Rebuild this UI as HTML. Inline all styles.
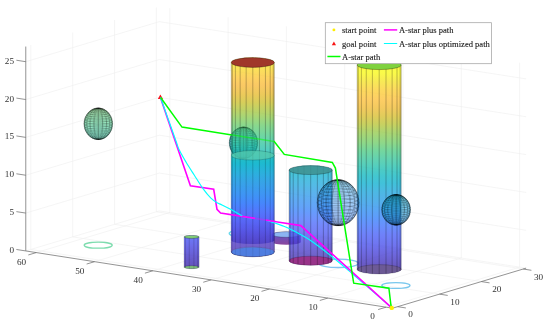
<!DOCTYPE html>
<html><head><meta charset="utf-8"><title>A-star path planning 3D</title>
<style>html,body{margin:0;padding:0;background:#fff}svg{display:block}</style></head>
<body><svg width="550" height="323" viewBox="0 0 550 323">
<defs><clipPath id="cpR"><rect x="220" y="225" width="11.6" height="16"/></clipPath>
<linearGradient id="g1" x1="0" y1="0" x2="0" y2="1"><stop offset="0" stop-color="#68cc6d"/><stop offset="0.12" stop-color="#5fcc74"/><stop offset="0.25" stop-color="#56cb7c"/><stop offset="0.38" stop-color="#4ccb84"/><stop offset="0.5" stop-color="#45ca8b"/><stop offset="0.62" stop-color="#3fc892"/><stop offset="0.75" stop-color="#39c798"/><stop offset="0.88" stop-color="#34c59e"/><stop offset="1" stop-color="#2ec4a4"/></linearGradient>
<linearGradient id="discg" x1="0" y1="0" x2="0" y2="1"><stop offset="0" stop-color="#5244c4"/><stop offset="0.45" stop-color="#6440b0"/><stop offset="1" stop-color="#803694"/></linearGradient>
<linearGradient id="g2" x1="0" y1="0" x2="0" y2="1"><stop offset="0" stop-color="#1cbeb4"/><stop offset="0.12" stop-color="#16bcb9"/><stop offset="0.25" stop-color="#12babd"/><stop offset="0.38" stop-color="#0eb8c2"/><stop offset="0.5" stop-color="#0ab6c6"/><stop offset="0.62" stop-color="#07b4cb"/><stop offset="0.75" stop-color="#0ab1cf"/><stop offset="0.88" stop-color="#0eaed2"/><stop offset="1" stop-color="#12abd6"/></linearGradient>
<linearGradient id="g3" gradientUnits="userSpaceOnUse" x1="0" y1="62.5" x2="0" y2="251.9"><stop offset="0" stop-color="#f7e922"/><stop offset="0.04" stop-color="#fad62d"/><stop offset="0.08" stop-color="#fdc636"/><stop offset="0.12" stop-color="#f9ba38"/><stop offset="0.17" stop-color="#e6bb2c"/><stop offset="0.21" stop-color="#ccc02c"/><stop offset="0.25" stop-color="#adc63b"/><stop offset="0.29" stop-color="#8ccb52"/><stop offset="0.33" stop-color="#6acc6c"/><stop offset="0.38" stop-color="#4acb86"/><stop offset="0.42" stop-color="#36c69c"/><stop offset="0.46" stop-color="#22c0ae"/><stop offset="0.5" stop-color="#11b9bf"/><stop offset="0.54" stop-color="#09b2cd"/><stop offset="0.58" stop-color="#17a9da"/><stop offset="0.62" stop-color="#219de3"/><stop offset="0.67" stop-color="#2892ed"/><stop offset="0.71" stop-color="#2e86f6"/><stop offset="0.75" stop-color="#3678fc"/><stop offset="0.79" stop-color="#4369fc"/><stop offset="0.83" stop-color="#4759f6"/><stop offset="0.88" stop-color="#474be8"/><stop offset="0.92" stop-color="#453dd4"/><stop offset="0.96" stop-color="#4131be"/><stop offset="1" stop-color="#3e26a8"/></linearGradient>
<linearGradient id="g4" x1="0" y1="0" x2="0" y2="1"><stop offset="0" stop-color="#39c799"/><stop offset="0.12" stop-color="#33c59f"/><stop offset="0.25" stop-color="#2dc3a5"/><stop offset="0.38" stop-color="#27c1aa"/><stop offset="0.5" stop-color="#21c0af"/><stop offset="0.62" stop-color="#1bbeb4"/><stop offset="0.75" stop-color="#15bcb9"/><stop offset="0.88" stop-color="#11babe"/><stop offset="1" stop-color="#0db8c3"/></linearGradient>
<linearGradient id="g5" gradientUnits="userSpaceOnUse" x1="0" y1="155.3" x2="0" y2="251.9"><stop offset="0" stop-color="#14bbbb"/><stop offset="0.04" stop-color="#0db7c3"/><stop offset="0.08" stop-color="#06b4cb"/><stop offset="0.12" stop-color="#0dafd1"/><stop offset="0.17" stop-color="#14aad7"/><stop offset="0.21" stop-color="#1aa5dd"/><stop offset="0.25" stop-color="#1f9fe1"/><stop offset="0.29" stop-color="#249ae6"/><stop offset="0.33" stop-color="#2794eb"/><stop offset="0.38" stop-color="#2a8ef1"/><stop offset="0.42" stop-color="#2d88f5"/><stop offset="0.46" stop-color="#3181f9"/><stop offset="0.5" stop-color="#357afc"/><stop offset="0.54" stop-color="#3b72fc"/><stop offset="0.58" stop-color="#426afc"/><stop offset="0.62" stop-color="#4562fa"/><stop offset="0.67" stop-color="#475bf7"/><stop offset="0.71" stop-color="#4853f1"/><stop offset="0.75" stop-color="#474ce9"/><stop offset="0.79" stop-color="#4644e0"/><stop offset="0.83" stop-color="#453ed5"/><stop offset="0.88" stop-color="#4337ca"/><stop offset="0.92" stop-color="#4131bf"/><stop offset="0.96" stop-color="#3f2cb4"/><stop offset="1" stop-color="#3e26a8"/></linearGradient>
<linearGradient id="g6" gradientUnits="userSpaceOnUse" x1="0" y1="170.1" x2="0" y2="260.7"><stop offset="0" stop-color="#0ab6c7"/><stop offset="0.04" stop-color="#09b2cd"/><stop offset="0.08" stop-color="#10add3"/><stop offset="0.12" stop-color="#16a9d9"/><stop offset="0.17" stop-color="#1ba4de"/><stop offset="0.21" stop-color="#209ee2"/><stop offset="0.25" stop-color="#2499e7"/><stop offset="0.29" stop-color="#2794ec"/><stop offset="0.33" stop-color="#2a8ef0"/><stop offset="0.38" stop-color="#2d88f5"/><stop offset="0.42" stop-color="#3082f8"/><stop offset="0.46" stop-color="#337bfc"/><stop offset="0.5" stop-color="#3a74fc"/><stop offset="0.54" stop-color="#406dfc"/><stop offset="0.58" stop-color="#4465fb"/><stop offset="0.62" stop-color="#465ef8"/><stop offset="0.67" stop-color="#4857f5"/><stop offset="0.71" stop-color="#4750ee"/><stop offset="0.75" stop-color="#4749e5"/><stop offset="0.79" stop-color="#4642dd"/><stop offset="0.83" stop-color="#443cd2"/><stop offset="0.88" stop-color="#4336c8"/><stop offset="0.92" stop-color="#4131bd"/><stop offset="0.96" stop-color="#3f2cb3"/><stop offset="1" stop-color="#3e26a8"/></linearGradient>
<linearGradient id="g7" gradientUnits="userSpaceOnUse" x1="0" y1="64.9" x2="0" y2="269.3"><stop offset="0" stop-color="#f9fb15"/><stop offset="0.04" stop-color="#f9f916"/><stop offset="0.08" stop-color="#f6e426"/><stop offset="0.12" stop-color="#fcd031"/><stop offset="0.17" stop-color="#fdc038"/><stop offset="0.21" stop-color="#f0bb32"/><stop offset="0.25" stop-color="#d8be2c"/><stop offset="0.29" stop-color="#b9c434"/><stop offset="0.33" stop-color="#95ca4b"/><stop offset="0.38" stop-color="#6fcd67"/><stop offset="0.42" stop-color="#4dcb83"/><stop offset="0.46" stop-color="#37c69b"/><stop offset="0.5" stop-color="#21c0af"/><stop offset="0.54" stop-color="#0fb8c1"/><stop offset="0.58" stop-color="#0cb0d0"/><stop offset="0.62" stop-color="#1aa5dc"/><stop offset="0.67" stop-color="#2499e6"/><stop offset="0.71" stop-color="#2b8df2"/><stop offset="0.75" stop-color="#327ffa"/><stop offset="0.79" stop-color="#3e6ffc"/><stop offset="0.83" stop-color="#465ef8"/><stop offset="0.88" stop-color="#474eec"/><stop offset="0.92" stop-color="#453fd8"/><stop offset="0.96" stop-color="#4132c0"/><stop offset="1" stop-color="#3e26a8"/></linearGradient>
<linearGradient id="g8" gradientUnits="userSpaceOnUse" x1="0" y1="236.9" x2="0" y2="267.2"><stop offset="0" stop-color="#4857f5"/><stop offset="0.04" stop-color="#4855f3"/><stop offset="0.08" stop-color="#4852f0"/><stop offset="0.12" stop-color="#4750ee"/><stop offset="0.17" stop-color="#474eeb"/><stop offset="0.21" stop-color="#474be8"/><stop offset="0.25" stop-color="#4749e6"/><stop offset="0.29" stop-color="#4747e3"/><stop offset="0.33" stop-color="#4645e0"/><stop offset="0.38" stop-color="#4642dd"/><stop offset="0.42" stop-color="#4540d9"/><stop offset="0.46" stop-color="#453ed6"/><stop offset="0.5" stop-color="#443cd2"/><stop offset="0.54" stop-color="#443acf"/><stop offset="0.58" stop-color="#4338cb"/><stop offset="0.62" stop-color="#4336c8"/><stop offset="0.67" stop-color="#4234c4"/><stop offset="0.71" stop-color="#4232c1"/><stop offset="0.75" stop-color="#4131bd"/><stop offset="0.79" stop-color="#402fba"/><stop offset="0.83" stop-color="#402db6"/><stop offset="0.88" stop-color="#3f2cb3"/><stop offset="0.92" stop-color="#3f2aaf"/><stop offset="0.96" stop-color="#3e28ac"/><stop offset="1" stop-color="#3e26a8"/></linearGradient>
<linearGradient id="g9" x1="0" y1="0" x2="0" y2="1"><stop offset="0" stop-color="#1da2df"/><stop offset="0.12" stop-color="#219de3"/><stop offset="0.25" stop-color="#2598e7"/><stop offset="0.38" stop-color="#2893ec"/><stop offset="0.5" stop-color="#2a8ef0"/><stop offset="0.62" stop-color="#2d89f4"/><stop offset="0.75" stop-color="#3083f8"/><stop offset="0.88" stop-color="#327dfb"/><stop offset="1" stop-color="#3777fc"/></linearGradient>
<linearGradient id="g10" x1="0" y1="0" x2="0" y2="1"><stop offset="0" stop-color="#0eafd2"/><stop offset="0.12" stop-color="#12acd5"/><stop offset="0.25" stop-color="#16a9d9"/><stop offset="0.38" stop-color="#19a6dc"/><stop offset="0.5" stop-color="#1ca3de"/><stop offset="0.62" stop-color="#1fa0e1"/><stop offset="0.75" stop-color="#229ce4"/><stop offset="0.88" stop-color="#2499e7"/><stop offset="1" stop-color="#2696e9"/></linearGradient>
<clipPath id="cpA"><path d="M0,0 H242 V323 H0 Z M276,0 H345 V323 H276 Z"/></clipPath>
<clipPath id="cpE"><path d="M242,0 H255 V323 H242 Z M266,0 H276 V323 H266 Z M345,0 H550 V323 H345 Z"/></clipPath>
<clipPath id="cpB"><rect x="255" y="200" width="11" height="40"/></clipPath>
<clipPath id="cpC"><path d="M0,0 H231.5 V323 H0 Z M273.9,0 H550 V323 H273.9 Z"/></clipPath>
<clipPath id="cpD"><rect x="231.5" y="100" width="42.4" height="80"/></clipPath></defs>
<rect width="550" height="323" fill="#fff"/>
<g>
<line x1="386.07" y1="307.18" x2="519.61" y2="267.13" stroke="#eeeeee" stroke-width="0.6" />
<line x1="519.61" y1="267.13" x2="519.61" y2="62.74" stroke="#eeeeee" stroke-width="0.6" />
<line x1="327.77" y1="298.08" x2="461.31" y2="258.03" stroke="#eeeeee" stroke-width="0.6" />
<line x1="461.31" y1="258.03" x2="461.31" y2="53.64" stroke="#eeeeee" stroke-width="0.6" />
<line x1="269.47" y1="288.98" x2="403.01" y2="248.93" stroke="#eeeeee" stroke-width="0.6" />
<line x1="403.01" y1="248.93" x2="403.01" y2="44.54" stroke="#eeeeee" stroke-width="0.6" />
<line x1="211.17" y1="279.88" x2="344.71" y2="239.83" stroke="#eeeeee" stroke-width="0.6" />
<line x1="344.71" y1="239.83" x2="344.71" y2="35.44" stroke="#eeeeee" stroke-width="0.6" />
<line x1="152.87" y1="270.78" x2="286.41" y2="230.73" stroke="#eeeeee" stroke-width="0.6" />
<line x1="286.41" y1="230.73" x2="286.41" y2="26.34" stroke="#eeeeee" stroke-width="0.6" />
<line x1="94.57" y1="261.68" x2="228.11" y2="221.63" stroke="#eeeeee" stroke-width="0.6" />
<line x1="228.11" y1="221.63" x2="228.11" y2="17.24" stroke="#eeeeee" stroke-width="0.6" />
<line x1="36.27" y1="252.58" x2="169.81" y2="212.53" stroke="#eeeeee" stroke-width="0.6" />
<line x1="169.81" y1="212.53" x2="169.81" y2="8.14" stroke="#eeeeee" stroke-width="0.6" />
<line x1="397.66" y1="306.68" x2="30.84" y2="249.42" stroke="#eeeeee" stroke-width="0.6" />
<line x1="30.84" y1="249.42" x2="30.84" y2="45.03" stroke="#eeeeee" stroke-width="0.6" />
<line x1="439.51" y1="294.13" x2="72.69" y2="236.87" stroke="#eeeeee" stroke-width="0.6" />
<line x1="72.69" y1="236.87" x2="72.69" y2="32.48" stroke="#eeeeee" stroke-width="0.6" />
<line x1="481.36" y1="281.58" x2="114.54" y2="224.32" stroke="#eeeeee" stroke-width="0.6" />
<line x1="114.54" y1="224.32" x2="114.54" y2="19.93" stroke="#eeeeee" stroke-width="0.6" />
<line x1="523.21" y1="269.03" x2="156.39" y2="211.77" stroke="#eeeeee" stroke-width="0.6" />
<line x1="156.39" y1="211.77" x2="156.39" y2="7.38" stroke="#eeeeee" stroke-width="0.6" />
<line x1="25.78" y1="250.94" x2="159.32" y2="210.9" stroke="#eeeeee" stroke-width="0.6" />
<line x1="159.32" y1="210.9" x2="526.14" y2="268.15" stroke="#eeeeee" stroke-width="0.6" />
<line x1="25.78" y1="213.09" x2="159.32" y2="173.05" stroke="#eeeeee" stroke-width="0.6" />
<line x1="159.32" y1="173.05" x2="526.14" y2="230.3" stroke="#eeeeee" stroke-width="0.6" />
<line x1="25.78" y1="175.24" x2="159.32" y2="135.2" stroke="#eeeeee" stroke-width="0.6" />
<line x1="159.32" y1="135.2" x2="526.14" y2="192.45" stroke="#eeeeee" stroke-width="0.6" />
<line x1="25.78" y1="137.39" x2="159.32" y2="97.35" stroke="#eeeeee" stroke-width="0.6" />
<line x1="159.32" y1="97.35" x2="526.14" y2="154.6" stroke="#eeeeee" stroke-width="0.6" />
<line x1="25.78" y1="99.54" x2="159.32" y2="59.5" stroke="#eeeeee" stroke-width="0.6" />
<line x1="159.32" y1="59.5" x2="526.14" y2="116.75" stroke="#eeeeee" stroke-width="0.6" />
<line x1="25.78" y1="61.69" x2="159.32" y2="21.65" stroke="#eeeeee" stroke-width="0.6" />
<line x1="159.32" y1="21.65" x2="526.14" y2="78.9" stroke="#eeeeee" stroke-width="0.6" />
</g>
<line x1="392.6" y1="308.2" x2="25.78" y2="250.94" stroke="#707070" stroke-width="0.75" />
<line x1="392.6" y1="308.2" x2="526.14" y2="268.15" stroke="#707070" stroke-width="0.75" />
<line x1="25.78" y1="250.94" x2="25.78" y2="46.55" stroke="#707070" stroke-width="0.75" />
<line x1="386.07" y1="307.18" x2="378.12" y2="309.56" stroke="#707070" stroke-width="0.75" />
<text x="372.57" y="319.18" text-anchor="middle" font-family="Liberation Serif, serif" font-size="9.2" fill="#333">0</text>
<line x1="327.77" y1="298.08" x2="319.82" y2="300.46" stroke="#707070" stroke-width="0.75" />
<text x="313.07" y="310.08" text-anchor="middle" font-family="Liberation Serif, serif" font-size="9.2" fill="#333">10</text>
<line x1="269.47" y1="288.98" x2="261.52" y2="291.36" stroke="#707070" stroke-width="0.75" />
<text x="254.77" y="300.98" text-anchor="middle" font-family="Liberation Serif, serif" font-size="9.2" fill="#333">20</text>
<line x1="211.17" y1="279.88" x2="203.22" y2="282.26" stroke="#707070" stroke-width="0.75" />
<text x="196.47" y="291.88" text-anchor="middle" font-family="Liberation Serif, serif" font-size="9.2" fill="#333">30</text>
<line x1="152.87" y1="270.78" x2="144.92" y2="273.16" stroke="#707070" stroke-width="0.75" />
<text x="138.17" y="282.78" text-anchor="middle" font-family="Liberation Serif, serif" font-size="9.2" fill="#333">40</text>
<line x1="94.57" y1="261.68" x2="86.62" y2="264.06" stroke="#707070" stroke-width="0.75" />
<text x="79.87" y="273.68" text-anchor="middle" font-family="Liberation Serif, serif" font-size="9.2" fill="#333">50</text>
<line x1="36.27" y1="252.58" x2="28.32" y2="254.96" stroke="#707070" stroke-width="0.75" />
<text x="21.57" y="264.58" text-anchor="middle" font-family="Liberation Serif, serif" font-size="9.2" fill="#333">60</text>
<line x1="397.66" y1="306.68" x2="405.86" y2="307.96" stroke="#707070" stroke-width="0.75" />
<text x="410.46" y="316.78" text-anchor="middle" font-family="Liberation Serif, serif" font-size="9.2" fill="#333">0</text>
<line x1="439.51" y1="294.13" x2="447.71" y2="295.41" stroke="#707070" stroke-width="0.75" />
<text x="454.91" y="305.03" text-anchor="middle" font-family="Liberation Serif, serif" font-size="9.2" fill="#333">10</text>
<line x1="481.36" y1="281.58" x2="489.56" y2="282.86" stroke="#707070" stroke-width="0.75" />
<text x="496.76" y="292.48" text-anchor="middle" font-family="Liberation Serif, serif" font-size="9.2" fill="#333">20</text>
<line x1="523.21" y1="269.03" x2="531.41" y2="270.31" stroke="#707070" stroke-width="0.75" />
<text x="538.61" y="279.93" text-anchor="middle" font-family="Liberation Serif, serif" font-size="9.2" fill="#333">30</text>
<line x1="25.78" y1="250.94" x2="16.39" y2="249.48" stroke="#707070" stroke-width="0.75" />
<text x="13.98" y="253.04" text-anchor="end" font-family="Liberation Serif, serif" font-size="9.2" fill="#333">0</text>
<line x1="25.78" y1="213.09" x2="16.39" y2="211.63" stroke="#707070" stroke-width="0.75" />
<text x="13.98" y="215.19" text-anchor="end" font-family="Liberation Serif, serif" font-size="9.2" fill="#333">5</text>
<line x1="25.78" y1="175.24" x2="16.39" y2="173.78" stroke="#707070" stroke-width="0.75" />
<text x="13.98" y="177.34" text-anchor="end" font-family="Liberation Serif, serif" font-size="9.2" fill="#333">10</text>
<line x1="25.78" y1="137.39" x2="16.39" y2="135.93" stroke="#707070" stroke-width="0.75" />
<text x="13.98" y="139.49" text-anchor="end" font-family="Liberation Serif, serif" font-size="9.2" fill="#333">15</text>
<line x1="25.78" y1="99.54" x2="16.39" y2="98.08" stroke="#707070" stroke-width="0.75" />
<text x="13.98" y="101.64" text-anchor="end" font-family="Liberation Serif, serif" font-size="9.2" fill="#333">20</text>
<line x1="25.78" y1="61.69" x2="16.39" y2="60.23" stroke="#707070" stroke-width="0.75" />
<text x="13.98" y="63.79" text-anchor="end" font-family="Liberation Serif, serif" font-size="9.2" fill="#333">25</text>
<ellipse cx="98.2" cy="245.2" rx="14" ry="3" fill="none" stroke="#66d6a0" stroke-width="1.3" opacity="0.85"/>
<g clip-path="url(#cpR)">
<ellipse cx="243.2" cy="233.5" rx="14" ry="3" fill="none" stroke="#4fd2ea" stroke-width="1.3" opacity="0.85"/>
</g>
<ellipse cx="338.4" cy="263.3" rx="20" ry="4.2" fill="none" stroke="#62b6ee" stroke-width="1.3" opacity="0.8"/>
<ellipse cx="395.9" cy="285.5" rx="14.1" ry="2.9" fill="none" stroke="#62bdea" stroke-width="1.3" opacity="0.85"/>
<ellipse cx="98.3" cy="123.8" rx="14.3" ry="15.7" fill="url(#g1)" opacity="0.58"/>
<path d="M96.48,138.81 L96.71,138.75 L96.97,138.7 L97.27,138.66 L97.6,138.63 L97.94,138.62 L98.29,138.61 L98.64,138.62 L98.98,138.63 L99.3,138.66 L99.6,138.7 L99.87,138.75 L100.1,138.81 L100.29,138.87 L100.42,138.94 L100.51,139.02 L100.54,139.09 L100.51,139.17 L100.43,139.24 L100.3,139.31 L100.12,139.38 L99.89,139.44 L99.63,139.48 L99.33,139.52 L99,139.55 L98.66,139.57 L98.31,139.58 L97.96,139.57 L97.62,139.55 L97.3,139.52 L97,139.49 L96.73,139.44 L96.5,139.38 L96.31,139.31 L96.18,139.24 L96.09,139.17 L96.06,139.09 L96.09,139.02 L96.17,138.95 L96.3,138.88 L96.48,138.81 M94.71,137.97 L95.16,137.85 L95.68,137.76 L96.27,137.68 L96.91,137.62 L97.58,137.58 L98.27,137.57 L98.97,137.58 L99.64,137.62 L100.28,137.68 L100.88,137.75 L101.41,137.85 L101.86,137.97 L102.23,138.09 L102.49,138.23 L102.66,138.38 L102.72,138.53 L102.67,138.68 L102.51,138.82 L102.25,138.96 L101.89,139.09 L101.44,139.2 L100.92,139.3 L100.33,139.38 L99.69,139.43 L99.02,139.47 L98.33,139.48 L97.63,139.47 L96.96,139.44 L96.32,139.38 L95.72,139.3 L95.19,139.2 L94.74,139.09 L94.37,138.96 L94.11,138.82 L93.94,138.68 L93.88,138.53 L93.93,138.38 L94.09,138.23 L94.35,138.09 L94.71,137.97 M93.03,136.77 L93.68,136.61 L94.45,136.46 L95.32,136.35 L96.26,136.26 L97.25,136.21 L98.26,136.19 L99.28,136.21 L100.27,136.26 L101.21,136.35 L102.09,136.46 L102.86,136.6 L103.53,136.77 L104.07,136.96 L104.46,137.16 L104.71,137.38 L104.79,137.6 L104.72,137.82 L104.49,138.03 L104.1,138.23 L103.57,138.42 L102.92,138.59 L102.15,138.73 L101.28,138.85 L100.34,138.93 L99.35,138.98 L98.34,139 L97.32,138.98 L96.33,138.93 L95.39,138.85 L94.51,138.73 L93.74,138.59 L93.07,138.42 L92.53,138.23 L92.14,138.03 L91.89,137.82 L91.81,137.6 L91.88,137.38 L92.11,137.16 L92.5,136.96 L93.03,136.77 M91.47,135.26 L92.32,135.04 L93.32,134.86 L94.44,134.71 L95.66,134.6 L96.94,134.53 L98.25,134.51 L99.57,134.53 L100.85,134.6 L102.07,134.71 L103.2,134.86 L104.21,135.04 L105.07,135.26 L105.77,135.5 L106.28,135.76 L106.59,136.04 L106.71,136.33 L106.61,136.61 L106.31,136.89 L105.81,137.15 L105.13,137.39 L104.28,137.61 L103.28,137.8 L102.16,137.94 L100.94,138.05 L99.66,138.12 L98.35,138.14 L97.03,138.12 L95.75,138.05 L94.53,137.95 L93.4,137.8 L92.39,137.61 L91.53,137.4 L90.83,137.15 L90.32,136.89 L90.01,136.61 L89.89,136.33 L89.99,136.05 L90.29,135.77 L90.79,135.5 L91.47,135.26 M90.09,133.47 L91.11,133.21 L92.31,132.98 L93.66,132.8 L95.12,132.67 L96.66,132.59 L98.24,132.57 L99.82,132.59 L101.37,132.67 L102.84,132.8 L104.2,132.98 L105.41,133.2 L106.45,133.46 L107.28,133.76 L107.9,134.07 L108.28,134.41 L108.41,134.75 L108.3,135.09 L107.93,135.42 L107.34,135.74 L106.51,136.03 L105.49,136.29 L104.29,136.52 L102.94,136.69 L101.48,136.83 L99.94,136.91 L98.36,136.93 L96.78,136.91 L95.23,136.83 L93.76,136.7 L92.4,136.52 L91.19,136.3 L90.15,136.03 L89.32,135.74 L88.7,135.43 L88.32,135.09 L88.19,134.75 L88.3,134.41 L88.67,134.08 L89.26,133.76 L90.09,133.47 M88.9,131.43 L90.07,131.14 L91.45,130.88 L92.99,130.68 L94.66,130.53 L96.42,130.43 L98.23,130.4 L100.04,130.43 L101.81,130.52 L103.49,130.67 L105.05,130.88 L106.43,131.13 L107.62,131.43 L108.58,131.77 L109.28,132.13 L109.72,132.51 L109.87,132.9 L109.74,133.29 L109.32,133.67 L108.64,134.03 L107.7,134.37 L106.53,134.67 L105.15,134.92 L103.61,135.13 L101.94,135.28 L100.18,135.37 L98.37,135.4 L96.56,135.37 L94.79,135.28 L93.11,135.13 L91.55,134.92 L90.17,134.67 L88.98,134.37 L88.02,134.04 L87.32,133.68 L86.88,133.3 L86.73,132.9 L86.86,132.51 L87.28,132.13 L87.96,131.77 L88.9,131.43 M87.95,129.21 L89.24,128.89 L90.75,128.6 L92.45,128.38 L94.29,128.21 L96.23,128.11 L98.23,128.08 L100.22,128.11 L102.17,128.21 L104.02,128.38 L105.73,128.6 L107.26,128.88 L108.56,129.21 L109.62,129.58 L110.4,129.98 L110.87,130.4 L111.04,130.83 L110.9,131.26 L110.44,131.68 L109.69,132.08 L108.65,132.45 L107.36,132.77 L105.85,133.06 L104.15,133.28 L102.31,133.45 L100.37,133.55 L98.37,133.58 L96.38,133.55 L94.43,133.45 L92.58,133.28 L90.87,133.06 L89.34,132.78 L88.04,132.45 L86.98,132.08 L86.2,131.68 L85.73,131.26 L85.56,130.83 L85.7,130.4 L86.16,129.98 L86.91,129.58 L87.95,129.21 M87.25,126.86 L88.63,126.51 L90.24,126.21 L92.06,125.97 L94.02,125.79 L96.1,125.68 L98.22,125.65 L100.35,125.68 L102.43,125.79 L104.4,125.97 L106.23,126.21 L107.86,126.51 L109.26,126.86 L110.38,127.25 L111.21,127.67 L111.72,128.12 L111.9,128.58 L111.74,129.04 L111.26,129.49 L110.45,129.92 L109.35,130.31 L107.97,130.66 L106.36,130.96 L104.54,131.2 L102.58,131.38 L100.5,131.49 L98.38,131.52 L96.25,131.49 L94.17,131.38 L92.2,131.2 L90.37,130.96 L88.74,130.66 L87.34,130.31 L86.22,129.92 L85.39,129.5 L84.88,129.05 L84.7,128.59 L84.86,128.13 L85.34,127.68 L86.15,127.25 L87.25,126.86 M86.83,124.43 L88.26,124.07 L89.93,123.76 L91.82,123.51 L93.86,123.32 L96.01,123.21 L98.22,123.17 L100.43,123.21 L102.59,123.32 L104.64,123.5 L106.54,123.75 L108.23,124.06 L109.68,124.43 L110.85,124.83 L111.71,125.28 L112.24,125.74 L112.42,126.22 L112.26,126.7 L111.76,127.16 L110.92,127.6 L109.77,128.01 L108.34,128.38 L106.67,128.69 L104.78,128.94 L102.74,129.12 L100.59,129.24 L98.38,129.27 L96.17,129.24 L94.01,129.12 L91.96,128.94 L90.06,128.69 L88.37,128.38 L86.92,128.02 L85.75,127.61 L84.89,127.17 L84.36,126.7 L84.18,126.23 L84.34,125.75 L84.84,125.28 L85.68,124.84 L86.83,124.43 M86.68,121.99 L88.13,121.62 L89.83,121.3 L91.74,121.05 L93.8,120.86 L95.98,120.75 L98.22,120.71 L100.46,120.75 L102.64,120.86 L104.72,121.05 L106.64,121.3 L108.35,121.61 L109.82,121.98 L111,122.4 L111.87,122.84 L112.41,123.31 L112.6,123.8 L112.44,124.28 L111.93,124.75 L111.08,125.2 L109.92,125.61 L108.47,125.98 L106.77,126.3 L104.86,126.55 L102.8,126.74 L100.62,126.85 L98.38,126.89 L96.14,126.85 L93.96,126.74 L91.88,126.55 L89.96,126.3 L88.25,125.99 L86.78,125.62 L85.6,125.2 L84.73,124.76 L84.19,124.29 L84,123.8 L84.16,123.32 L84.67,122.85 L85.52,122.4 L86.68,121.99 M86.83,119.59 L88.26,119.22 L89.93,118.91 L91.82,118.66 L93.86,118.48 L96.01,118.36 L98.22,118.33 L100.43,118.36 L102.59,118.48 L104.64,118.66 L106.54,118.91 L108.23,119.22 L109.68,119.58 L110.85,119.99 L111.71,120.43 L112.24,120.9 L112.42,121.37 L112.26,121.85 L111.76,122.32 L110.92,122.76 L109.77,123.17 L108.34,123.53 L106.67,123.84 L104.78,124.09 L102.74,124.28 L100.59,124.39 L98.38,124.43 L96.17,124.39 L94.01,124.28 L91.96,124.1 L90.06,123.85 L88.37,123.54 L86.92,123.17 L85.75,122.77 L84.89,122.32 L84.36,121.86 L84.18,121.38 L84.34,120.9 L84.84,120.44 L85.68,120 L86.83,119.59 M87.25,117.29 L88.63,116.94 L90.24,116.64 L92.06,116.4 L94.02,116.22 L96.1,116.11 L98.22,116.08 L100.35,116.11 L102.43,116.22 L104.4,116.4 L106.23,116.64 L107.86,116.94 L109.26,117.29 L110.38,117.68 L111.21,118.1 L111.72,118.55 L111.9,119.01 L111.74,119.47 L111.26,119.92 L110.45,120.35 L109.35,120.74 L107.97,121.09 L106.36,121.39 L104.54,121.63 L102.58,121.81 L100.5,121.92 L98.38,121.95 L96.25,121.92 L94.17,121.81 L92.2,121.63 L90.37,121.39 L88.74,121.09 L87.34,120.74 L86.22,120.35 L85.39,119.93 L84.88,119.48 L84.7,119.02 L84.86,118.56 L85.34,118.11 L86.15,117.68 L87.25,117.29 M87.95,115.15 L89.24,114.83 L90.75,114.54 L92.45,114.32 L94.29,114.15 L96.23,114.05 L98.23,114.02 L100.22,114.05 L102.17,114.15 L104.02,114.32 L105.73,114.54 L107.26,114.82 L108.56,115.15 L109.62,115.52 L110.4,115.92 L110.87,116.34 L111.04,116.77 L110.9,117.2 L110.44,117.62 L109.69,118.02 L108.65,118.39 L107.36,118.71 L105.85,119 L104.15,119.22 L102.31,119.39 L100.37,119.49 L98.37,119.52 L96.38,119.49 L94.43,119.39 L92.58,119.22 L90.87,119 L89.34,118.72 L88.04,118.39 L86.98,118.02 L86.2,117.62 L85.73,117.2 L85.56,116.77 L85.7,116.34 L86.16,115.92 L86.91,115.52 L87.95,115.15 M88.9,113.23 L90.07,112.93 L91.45,112.68 L92.99,112.47 L94.66,112.32 L96.42,112.23 L98.23,112.2 L100.04,112.23 L101.81,112.32 L103.49,112.47 L105.05,112.68 L106.43,112.93 L107.62,113.23 L108.58,113.56 L109.28,113.92 L109.72,114.3 L109.87,114.7 L109.74,115.09 L109.32,115.47 L108.64,115.83 L107.7,116.17 L106.53,116.46 L105.15,116.72 L103.61,116.92 L101.94,117.07 L100.18,117.17 L98.37,117.2 L96.56,117.17 L94.79,117.08 L93.11,116.93 L91.55,116.72 L90.17,116.47 L88.98,116.17 L88.02,115.83 L87.32,115.47 L86.88,115.09 L86.73,114.7 L86.86,114.31 L87.28,113.93 L87.96,113.57 L88.9,113.23 M90.09,111.57 L91.11,111.31 L92.31,111.08 L93.66,110.91 L95.12,110.77 L96.66,110.69 L98.24,110.67 L99.82,110.69 L101.37,110.77 L102.84,110.9 L104.2,111.08 L105.41,111.3 L106.45,111.57 L107.28,111.86 L107.9,112.17 L108.28,112.51 L108.41,112.85 L108.3,113.19 L107.93,113.52 L107.34,113.84 L106.51,114.13 L105.49,114.39 L104.29,114.62 L102.94,114.8 L101.48,114.93 L99.94,115.01 L98.36,115.03 L96.78,115.01 L95.23,114.93 L93.76,114.8 L92.4,114.62 L91.19,114.4 L90.15,114.14 L89.32,113.84 L88.7,113.53 L88.32,113.19 L88.19,112.85 L88.3,112.51 L88.67,112.18 L89.26,111.86 L90.09,111.57 M91.47,110.21 L92.32,109.99 L93.32,109.8 L94.44,109.66 L95.66,109.55 L96.94,109.48 L98.25,109.46 L99.57,109.48 L100.85,109.55 L102.07,109.65 L103.2,109.8 L104.21,109.99 L105.07,110.2 L105.77,110.45 L106.28,110.71 L106.59,110.99 L106.71,111.27 L106.61,111.55 L106.31,111.83 L105.81,112.1 L105.13,112.34 L104.28,112.56 L103.28,112.74 L102.16,112.89 L100.94,113 L99.66,113.07 L98.35,113.09 L97.03,113.07 L95.75,113 L94.53,112.89 L93.4,112.74 L92.39,112.56 L91.53,112.34 L90.83,112.1 L90.32,111.84 L90.01,111.56 L89.89,111.27 L89.99,110.99 L90.29,110.71 L90.79,110.45 L91.47,110.21 M93.03,109.18 L93.68,109.01 L94.45,108.87 L95.32,108.75 L96.26,108.67 L97.25,108.62 L98.26,108.6 L99.28,108.62 L100.27,108.67 L101.21,108.75 L102.09,108.87 L102.86,109.01 L103.53,109.18 L104.07,109.37 L104.46,109.57 L104.71,109.78 L104.79,110 L104.72,110.22 L104.49,110.44 L104.1,110.64 L103.57,110.83 L102.92,110.99 L102.15,111.14 L101.28,111.25 L100.34,111.34 L99.35,111.39 L98.34,111.41 L97.32,111.39 L96.33,111.34 L95.39,111.25 L94.51,111.14 L93.74,111 L93.07,110.83 L92.53,110.64 L92.14,110.44 L91.89,110.22 L91.81,110 L91.88,109.78 L92.11,109.57 L92.5,109.37 L93.03,109.18 M94.71,108.51 L95.16,108.4 L95.68,108.3 L96.27,108.22 L96.91,108.17 L97.58,108.13 L98.27,108.12 L98.97,108.13 L99.64,108.16 L100.28,108.22 L100.88,108.3 L101.41,108.4 L101.86,108.51 L102.23,108.64 L102.49,108.78 L102.66,108.92 L102.72,109.07 L102.67,109.22 L102.51,109.37 L102.25,109.51 L101.89,109.63 L101.44,109.75 L100.92,109.84 L100.33,109.92 L99.69,109.98 L99.02,110.02 L98.33,110.03 L97.63,110.02 L96.96,109.98 L96.32,109.92 L95.72,109.85 L95.19,109.75 L94.74,109.63 L94.37,109.51 L94.11,109.37 L93.94,109.22 L93.88,109.07 L93.93,108.92 L94.09,108.78 L94.35,108.64 L94.71,108.51 M96.48,108.22 L96.71,108.16 L96.97,108.12 L97.27,108.08 L97.6,108.05 L97.94,108.03 L98.29,108.02 L98.64,108.03 L98.98,108.05 L99.3,108.08 L99.6,108.11 L99.87,108.16 L100.1,108.22 L100.29,108.29 L100.42,108.36 L100.51,108.43 L100.54,108.51 L100.51,108.58 L100.43,108.65 L100.3,108.72 L100.12,108.79 L99.89,108.85 L99.63,108.9 L99.33,108.94 L99,108.97 L98.66,108.98 L98.31,108.99 L97.96,108.98 L97.62,108.97 L97.3,108.94 L97,108.9 L96.73,108.85 L96.5,108.79 L96.31,108.73 L96.18,108.66 L96.09,108.58 L96.06,108.51 L96.09,108.43 L96.17,108.36 L96.3,108.29 L96.48,108.22 M98.3,139.28 L96.48,138.81 L94.71,137.97 L93.03,136.77 L91.47,135.26 L90.09,133.47 L88.9,131.43 L87.95,129.21 L87.25,126.86 L86.83,124.43 L86.68,121.99 L86.83,119.59 L87.25,117.29 L87.95,115.15 L88.9,113.23 L90.09,111.57 L91.47,110.21 L93.03,109.18 L94.71,108.51 L96.48,108.22 L98.3,108.32 M98.3,139.28 L96.97,138.7 L95.68,137.76 L94.45,136.46 L93.32,134.86 L92.31,132.98 L91.45,130.88 L90.75,128.6 L90.24,126.21 L89.93,123.76 L89.83,121.3 L89.93,118.91 L90.24,116.64 L90.75,114.54 L91.45,112.68 L92.31,111.08 L93.32,109.8 L94.45,108.87 L95.68,108.3 L96.97,108.12 L98.3,108.32 M98.3,139.28 L97.6,138.63 L96.91,137.62 L96.26,136.26 L95.66,134.6 L95.12,132.67 L94.66,130.53 L94.29,128.21 L94.02,125.79 L93.86,123.32 L93.8,120.86 L93.86,118.48 L94.02,116.22 L94.29,114.15 L94.66,112.32 L95.12,110.77 L95.66,109.55 L96.26,108.67 L96.91,108.17 L97.6,108.05 L98.3,108.32 M98.3,139.28 L98.29,138.61 L98.27,137.57 L98.26,136.19 L98.25,134.51 L98.24,132.57 L98.23,130.4 L98.23,128.08 L98.22,125.65 L98.22,123.17 L98.22,120.71 L98.22,118.33 L98.22,116.08 L98.23,114.02 L98.23,112.2 L98.24,110.67 L98.25,109.46 L98.26,108.6 L98.27,108.12 L98.29,108.02 L98.3,108.32 M98.3,139.28 L98.98,138.63 L99.64,137.62 L100.27,136.26 L100.85,134.6 L101.37,132.67 L101.81,130.52 L102.17,128.21 L102.43,125.79 L102.59,123.32 L102.64,120.86 L102.59,118.48 L102.43,116.22 L102.17,114.15 L101.81,112.32 L101.37,110.77 L100.85,109.55 L100.27,108.67 L99.64,108.16 L98.98,108.05 L98.3,108.32 M98.3,139.28 L99.6,138.7 L100.88,137.75 L102.09,136.46 L103.2,134.86 L104.2,132.98 L105.05,130.88 L105.73,128.6 L106.23,126.21 L106.54,123.75 L106.64,121.3 L106.54,118.91 L106.23,116.64 L105.73,114.54 L105.05,112.68 L104.2,111.08 L103.2,109.8 L102.09,108.87 L100.88,108.3 L99.6,108.11 L98.3,108.32 M98.3,139.28 L100.1,138.81 L101.86,137.97 L103.53,136.77 L105.07,135.26 L106.45,133.46 L107.62,131.43 L108.56,129.21 L109.26,126.86 L109.68,124.43 L109.82,121.98 L109.68,119.58 L109.26,117.29 L108.56,115.15 L107.62,113.23 L106.45,111.57 L105.07,110.2 L103.53,109.18 L101.86,108.51 L100.1,108.22 L98.3,108.32 M98.3,139.28 L100.42,138.94 L102.49,138.23 L104.46,137.16 L106.28,135.76 L107.9,134.07 L109.28,132.13 L110.4,129.98 L111.21,127.67 L111.71,125.28 L111.87,122.84 L111.71,120.43 L111.21,118.1 L110.4,115.92 L109.28,113.92 L107.9,112.17 L106.28,110.71 L104.46,109.57 L102.49,108.78 L100.42,108.36 L98.3,108.32 M98.3,139.28 L100.54,139.09 L102.72,138.53 L104.79,137.6 L106.71,136.33 L108.41,134.75 L109.87,132.9 L111.04,130.83 L111.9,128.58 L112.42,126.22 L112.6,123.8 L112.42,121.37 L111.9,119.01 L111.04,116.77 L109.87,114.7 L108.41,112.85 L106.71,111.27 L104.79,110 L102.72,109.07 L100.54,108.51 L98.3,108.32 M98.3,139.28 L100.43,139.24 L102.51,138.82 L104.49,138.03 L106.31,136.89 L107.93,135.42 L109.32,133.67 L110.44,131.68 L111.26,129.49 L111.76,127.16 L111.93,124.75 L111.76,122.32 L111.26,119.92 L110.44,117.62 L109.32,115.47 L107.93,113.52 L106.31,111.83 L104.49,110.44 L102.51,109.37 L100.43,108.65 L98.3,108.32 M98.3,139.28 L100.12,139.38 L101.89,139.09 L103.57,138.42 L105.13,137.39 L106.51,136.03 L107.7,134.37 L108.65,132.45 L109.35,130.31 L109.77,128.01 L109.92,125.61 L109.77,123.17 L109.35,120.74 L108.65,118.39 L107.7,116.17 L106.51,114.13 L105.13,112.34 L103.57,110.83 L101.89,109.63 L100.12,108.79 L98.3,108.32 M98.3,139.28 L99.63,139.48 L100.92,139.3 L102.15,138.73 L103.28,137.8 L104.29,136.52 L105.15,134.92 L105.85,133.06 L106.36,130.96 L106.67,128.69 L106.77,126.3 L106.67,123.84 L106.36,121.39 L105.85,119 L105.15,116.72 L104.29,114.62 L103.28,112.74 L102.15,111.14 L100.92,109.84 L99.63,108.9 L98.3,108.32 M98.3,139.28 L99,139.55 L99.69,139.43 L100.34,138.93 L100.94,138.05 L101.48,136.83 L101.94,135.28 L102.31,133.45 L102.58,131.38 L102.74,129.12 L102.8,126.74 L102.74,124.28 L102.58,121.81 L102.31,119.39 L101.94,117.07 L101.48,114.93 L100.94,113 L100.34,111.34 L99.69,109.98 L99,108.97 L98.3,108.32 M98.3,139.28 L98.31,139.58 L98.33,139.48 L98.34,139 L98.35,138.14 L98.36,136.93 L98.37,135.4 L98.37,133.58 L98.38,131.52 L98.38,129.27 L98.38,126.89 L98.38,124.43 L98.38,121.95 L98.37,119.52 L98.37,117.2 L98.36,115.03 L98.35,113.09 L98.34,111.41 L98.33,110.03 L98.31,108.99 L98.3,108.32 M98.3,139.28 L97.62,139.55 L96.96,139.44 L96.33,138.93 L95.75,138.05 L95.23,136.83 L94.79,135.28 L94.43,133.45 L94.17,131.38 L94.01,129.12 L93.96,126.74 L94.01,124.28 L94.17,121.81 L94.43,119.39 L94.79,117.08 L95.23,114.93 L95.75,113 L96.33,111.34 L96.96,109.98 L97.62,108.97 L98.3,108.32 M98.3,139.28 L97,139.49 L95.72,139.3 L94.51,138.73 L93.4,137.8 L92.4,136.52 L91.55,134.92 L90.87,133.06 L90.37,130.96 L90.06,128.69 L89.96,126.3 L90.06,123.85 L90.37,121.39 L90.87,119 L91.55,116.72 L92.4,114.62 L93.4,112.74 L94.51,111.14 L95.72,109.85 L97,108.9 L98.3,108.32 M98.3,139.28 L96.5,139.38 L94.74,139.09 L93.07,138.42 L91.53,137.4 L90.15,136.03 L88.98,134.37 L88.04,132.45 L87.34,130.31 L86.92,128.02 L86.78,125.62 L86.92,123.17 L87.34,120.74 L88.04,118.39 L88.98,116.17 L90.15,114.14 L91.53,112.34 L93.07,110.83 L94.74,109.63 L96.5,108.79 L98.3,108.32 M98.3,139.28 L96.18,139.24 L94.11,138.82 L92.14,138.03 L90.32,136.89 L88.7,135.43 L87.32,133.68 L86.2,131.68 L85.39,129.5 L84.89,127.17 L84.73,124.76 L84.89,122.32 L85.39,119.93 L86.2,117.62 L87.32,115.47 L88.7,113.53 L90.32,111.84 L92.14,110.44 L94.11,109.37 L96.18,108.66 L98.3,108.32 M98.3,139.28 L96.06,139.09 L93.88,138.53 L91.81,137.6 L89.89,136.33 L88.19,134.75 L86.73,132.9 L85.56,130.83 L84.7,128.59 L84.18,126.23 L84,123.8 L84.18,121.38 L84.7,119.02 L85.56,116.77 L86.73,114.7 L88.19,112.85 L89.89,111.27 L91.81,110 L93.88,109.07 L96.06,108.51 L98.3,108.32 M98.3,139.28 L96.17,138.95 L94.09,138.23 L92.11,137.16 L90.29,135.77 L88.67,134.08 L87.28,132.13 L86.16,129.98 L85.34,127.68 L84.84,125.28 L84.67,122.85 L84.84,120.44 L85.34,118.11 L86.16,115.92 L87.28,113.93 L88.67,112.18 L90.29,110.71 L92.11,109.57 L94.09,108.78 L96.17,108.36 L98.3,108.32" stroke="#000" stroke-width="0.35" fill="none" opacity="0.45"/>
<ellipse cx="98.3" cy="123.8" rx="14.3" ry="15.7" fill="none" stroke="#000" stroke-width="0.5" opacity="0.45"/>
<path d="M272,234.5 A14.4,2.8 0 0 1 300.8,234.5 L300.8,242 A14.4,2.8 0 0 1 272,242 Z" fill="url(#discg)" opacity="0.92"/>
<ellipse cx="286.4" cy="234.5" rx="14.4" ry="2.8" fill="#8cb4f2" stroke="#223" stroke-opacity="0.55" stroke-width="0.5"/>
<ellipse cx="243.5" cy="142.8" rx="14.2" ry="15.7" fill="url(#g2)" opacity="0.6"/>
<path d="M241.7,157.82 L241.92,157.76 L242.18,157.71 L242.48,157.67 L242.8,157.64 L243.14,157.62 L243.49,157.62 L243.83,157.62 L244.17,157.64 L244.5,157.67 L244.8,157.71 L245.06,157.76 L245.29,157.81 L245.47,157.88 L245.61,157.95 L245.69,158.02 L245.72,158.1 L245.7,158.17 L245.62,158.25 L245.48,158.31 L245.3,158.38 L245.08,158.44 L244.82,158.49 L244.52,158.52 L244.2,158.55 L243.86,158.57 L243.51,158.58 L243.17,158.57 L242.83,158.55 L242.5,158.52 L242.2,158.49 L241.94,158.44 L241.71,158.38 L241.53,158.32 L241.39,158.25 L241.31,158.17 L241.28,158.1 L241.3,158.02 L241.38,157.95 L241.52,157.88 L241.7,157.82 M239.94,156.97 L240.38,156.86 L240.9,156.76 L241.49,156.69 L242.12,156.63 L242.79,156.59 L243.47,156.58 L244.16,156.59 L244.83,156.63 L245.47,156.68 L246.06,156.76 L246.59,156.86 L247.04,156.97 L247.4,157.1 L247.67,157.24 L247.83,157.38 L247.89,157.53 L247.84,157.68 L247.68,157.82 L247.42,157.96 L247.06,158.09 L246.62,158.2 L246.1,158.3 L245.51,158.37 L244.88,158.43 L244.21,158.47 L243.53,158.48 L242.84,158.47 L242.17,158.43 L241.53,158.37 L240.94,158.3 L240.41,158.2 L239.96,158.09 L239.6,157.96 L239.33,157.82 L239.17,157.68 L239.11,157.53 L239.16,157.38 L239.32,157.24 L239.58,157.1 L239.94,156.97 M238.26,155.78 L238.92,155.62 L239.68,155.47 L240.54,155.36 L241.47,155.28 L242.46,155.22 L243.46,155.21 L244.47,155.22 L245.46,155.27 L246.39,155.36 L247.26,155.47 L248.03,155.61 L248.69,155.78 L249.23,155.97 L249.62,156.17 L249.86,156.38 L249.95,156.6 L249.87,156.82 L249.64,157.03 L249.26,157.23 L248.74,157.42 L248.08,157.58 L247.32,157.73 L246.46,157.84 L245.53,157.92 L244.54,157.97 L243.54,157.99 L242.53,157.98 L241.54,157.92 L240.61,157.84 L239.74,157.73 L238.97,157.59 L238.31,157.42 L237.77,157.23 L237.38,157.03 L237.14,156.82 L237.05,156.6 L237.13,156.38 L237.36,156.17 L237.74,155.97 L238.26,155.78 M236.72,154.27 L237.56,154.06 L238.56,153.87 L239.67,153.72 L240.88,153.62 L242.15,153.55 L243.45,153.53 L244.76,153.55 L246.03,153.61 L247.25,153.72 L248.37,153.87 L249.37,154.05 L250.22,154.27 L250.92,154.51 L251.42,154.77 L251.74,155.05 L251.85,155.33 L251.75,155.61 L251.45,155.89 L250.96,156.15 L250.28,156.39 L249.44,156.6 L248.44,156.79 L247.33,156.94 L246.12,157.04 L244.85,157.11 L243.55,157.13 L242.24,157.11 L240.97,157.05 L239.75,156.94 L238.63,156.79 L237.63,156.61 L236.78,156.39 L236.08,156.15 L235.58,155.89 L235.26,155.61 L235.15,155.33 L235.25,155.05 L235.55,154.77 L236.04,154.51 L236.72,154.27 M235.34,152.48 L236.36,152.22 L237.55,152 L238.89,151.82 L240.34,151.69 L241.87,151.61 L243.44,151.58 L245.01,151.61 L246.55,151.69 L248.01,151.82 L249.36,152 L250.56,152.22 L251.59,152.48 L252.42,152.77 L253.03,153.08 L253.41,153.41 L253.54,153.75 L253.43,154.09 L253.07,154.42 L252.47,154.73 L251.66,155.02 L250.64,155.28 L249.45,155.51 L248.11,155.68 L246.66,155.81 L245.13,155.89 L243.56,155.92 L241.99,155.89 L240.45,155.81 L238.99,155.69 L237.64,155.51 L236.44,155.29 L235.41,155.03 L234.58,154.74 L233.97,154.42 L233.59,154.09 L233.46,153.75 L233.57,153.41 L233.93,153.08 L234.53,152.77 L235.34,152.48 M234.17,150.45 L235.33,150.15 L236.69,149.9 L238.23,149.69 L239.89,149.54 L241.64,149.45 L243.43,149.42 L245.23,149.45 L246.99,149.54 L248.66,149.69 L250.2,149.89 L251.58,150.15 L252.76,150.44 L253.71,150.77 L254.41,151.13 L254.84,151.51 L254.99,151.9 L254.86,152.29 L254.45,152.67 L253.77,153.03 L252.83,153.36 L251.67,153.66 L250.31,153.91 L248.77,154.11 L247.11,154.26 L245.36,154.35 L243.57,154.39 L241.77,154.35 L240.01,154.26 L238.34,154.12 L236.8,153.91 L235.42,153.66 L234.24,153.36 L233.29,153.03 L232.59,152.67 L232.16,152.29 L232.01,151.91 L232.14,151.52 L232.55,151.14 L233.23,150.78 L234.17,150.45 M233.22,148.23 L234.5,147.9 L236,147.62 L237.69,147.4 L239.52,147.23 L241.45,147.13 L243.43,147.1 L245.41,147.13 L247.34,147.23 L249.18,147.4 L250.88,147.62 L252.4,147.9 L253.69,148.22 L254.74,148.59 L255.51,148.98 L255.98,149.4 L256.15,149.83 L256.01,150.26 L255.56,150.67 L254.81,151.07 L253.78,151.44 L252.5,151.76 L251,152.04 L249.31,152.27 L247.48,152.43 L245.55,152.53 L243.57,152.56 L241.59,152.53 L239.66,152.43 L237.82,152.27 L236.12,152.04 L234.6,151.77 L233.31,151.44 L232.26,151.07 L231.49,150.68 L231.02,150.26 L230.85,149.83 L230.99,149.41 L231.44,148.99 L232.19,148.59 L233.22,148.23 M232.53,145.87 L233.9,145.53 L235.5,145.23 L237.3,144.99 L239.25,144.81 L241.31,144.71 L243.42,144.67 L245.54,144.7 L247.6,144.81 L249.56,144.99 L251.38,145.22 L252.99,145.52 L254.38,145.87 L255.5,146.26 L256.32,146.68 L256.83,147.13 L257,147.58 L256.85,148.04 L256.37,148.48 L255.57,148.91 L254.47,149.3 L253.1,149.65 L251.5,149.94 L249.7,150.18 L247.75,150.36 L245.69,150.47 L243.58,150.5 L241.46,150.47 L239.4,150.36 L237.44,150.19 L235.62,149.95 L234.01,149.65 L232.62,149.3 L231.5,148.91 L230.68,148.49 L230.17,148.05 L230,147.59 L230.15,147.13 L230.63,146.69 L231.43,146.26 L232.53,145.87 M232.11,143.44 L233.53,143.08 L235.19,142.77 L237.06,142.52 L239.09,142.34 L241.23,142.23 L243.42,142.19 L245.61,142.23 L247.76,142.34 L249.8,142.52 L251.68,142.77 L253.36,143.08 L254.8,143.44 L255.96,143.84 L256.81,144.28 L257.34,144.75 L257.52,145.22 L257.36,145.69 L256.86,146.16 L256.03,146.6 L254.89,147 L253.47,147.36 L251.81,147.67 L249.94,147.92 L247.91,148.1 L245.77,148.21 L243.58,148.25 L241.39,148.22 L239.24,148.11 L237.2,147.92 L235.32,147.68 L233.64,147.37 L232.2,147.01 L231.04,146.6 L230.19,146.16 L229.66,145.7 L229.48,145.23 L229.64,144.75 L230.14,144.29 L230.97,143.85 L232.11,143.44 M231.96,141 L233.4,140.63 L235.09,140.32 L236.98,140.07 L239.03,139.88 L241.2,139.77 L243.42,139.73 L245.64,139.77 L247.81,139.88 L249.87,140.07 L251.78,140.32 L253.48,140.63 L254.94,140.99 L256.12,141.4 L256.98,141.85 L257.51,142.32 L257.7,142.8 L257.54,143.28 L257.03,143.75 L256.19,144.19 L255.04,144.6 L253.6,144.97 L251.91,145.28 L250.02,145.53 L247.97,145.72 L245.8,145.83 L243.58,145.87 L241.36,145.83 L239.19,145.72 L237.13,145.53 L235.22,145.28 L233.52,144.97 L232.06,144.61 L230.88,144.2 L230.02,143.75 L229.49,143.28 L229.3,142.8 L229.46,142.32 L229.97,141.85 L230.81,141.41 L231.96,141 M232.11,138.6 L233.53,138.24 L235.19,137.93 L237.06,137.68 L239.09,137.5 L241.23,137.39 L243.42,137.35 L245.61,137.38 L247.76,137.49 L249.8,137.68 L251.68,137.92 L253.36,138.23 L254.8,138.59 L255.96,139 L256.81,139.44 L257.34,139.9 L257.52,140.37 L257.36,140.85 L256.86,141.31 L256.03,141.75 L254.89,142.16 L253.47,142.52 L251.81,142.83 L249.94,143.08 L247.91,143.26 L245.77,143.37 L243.58,143.41 L241.39,143.37 L239.24,143.26 L237.2,143.08 L235.32,142.83 L233.64,142.52 L232.2,142.16 L231.04,141.76 L230.19,141.32 L229.66,140.85 L229.48,140.38 L229.64,139.91 L230.14,139.44 L230.97,139 L232.11,138.6 M232.53,136.3 L233.9,135.95 L235.5,135.66 L237.3,135.42 L239.25,135.24 L241.31,135.13 L243.42,135.1 L245.54,135.13 L247.6,135.24 L249.56,135.41 L251.38,135.65 L252.99,135.95 L254.38,136.3 L255.5,136.69 L256.32,137.11 L256.83,137.55 L257,138.01 L256.85,138.47 L256.37,138.91 L255.57,139.34 L254.47,139.73 L253.1,140.07 L251.5,140.37 L249.7,140.61 L247.75,140.79 L245.69,140.89 L243.58,140.93 L241.46,140.9 L239.4,140.79 L237.44,140.61 L235.62,140.38 L234.01,140.08 L232.62,139.73 L231.5,139.34 L230.68,138.92 L230.17,138.47 L230,138.02 L230.15,137.56 L230.63,137.12 L231.43,136.69 L232.53,136.3 M233.22,134.16 L234.5,133.84 L236,133.56 L237.69,133.33 L239.52,133.17 L241.45,133.07 L243.43,133.04 L245.41,133.07 L247.34,133.17 L249.18,133.33 L250.88,133.56 L252.4,133.83 L253.69,134.16 L254.74,134.53 L255.51,134.92 L255.98,135.34 L256.15,135.77 L256.01,136.19 L255.56,136.61 L254.81,137.01 L253.78,137.37 L252.5,137.7 L251,137.98 L249.31,138.2 L247.48,138.37 L245.55,138.47 L243.57,138.5 L241.59,138.47 L239.66,138.37 L237.82,138.2 L236.12,137.98 L234.6,137.7 L233.31,137.38 L232.26,137.01 L231.49,136.62 L231.02,136.2 L230.85,135.77 L230.99,135.34 L231.44,134.93 L232.19,134.53 L233.22,134.16 M234.17,132.24 L235.33,131.94 L236.69,131.69 L238.23,131.49 L239.89,131.34 L241.64,131.25 L243.43,131.21 L245.23,131.25 L246.99,131.34 L248.66,131.48 L250.2,131.69 L251.58,131.94 L252.76,132.24 L253.71,132.57 L254.41,132.93 L254.84,133.31 L254.99,133.69 L254.86,134.08 L254.45,134.46 L253.77,134.82 L252.83,135.15 L251.67,135.45 L250.31,135.7 L248.77,135.91 L247.11,136.06 L245.36,136.15 L243.57,136.18 L241.77,136.15 L240.01,136.06 L238.34,135.91 L236.8,135.71 L235.42,135.45 L234.24,135.16 L233.29,134.83 L232.59,134.47 L232.16,134.09 L232.01,133.7 L232.14,133.31 L232.55,132.93 L233.23,132.57 L234.17,132.24 M235.34,130.58 L236.36,130.32 L237.55,130.09 L238.89,129.92 L240.34,129.79 L241.87,129.71 L243.44,129.68 L245.01,129.71 L246.55,129.79 L248.01,129.91 L249.36,130.09 L250.56,130.31 L251.59,130.57 L252.42,130.86 L253.03,131.18 L253.41,131.51 L253.54,131.85 L253.43,132.19 L253.07,132.52 L252.47,132.83 L251.66,133.12 L250.64,133.38 L249.45,133.6 L248.11,133.78 L246.66,133.91 L245.13,133.99 L243.56,134.02 L241.99,133.99 L240.45,133.91 L238.99,133.78 L237.64,133.6 L236.44,133.38 L235.41,133.12 L234.58,132.83 L233.97,132.52 L233.59,132.19 L233.46,131.85 L233.57,131.51 L233.93,131.18 L234.53,130.87 L235.34,130.58 M236.72,129.21 L237.56,129 L238.56,128.81 L239.67,128.66 L240.88,128.56 L242.15,128.49 L243.45,128.47 L244.76,128.49 L246.03,128.55 L247.25,128.66 L248.37,128.81 L249.37,128.99 L250.22,129.21 L250.92,129.45 L251.42,129.71 L251.74,129.99 L251.85,130.27 L251.75,130.55 L251.45,130.83 L250.96,131.09 L250.28,131.33 L249.44,131.54 L248.44,131.73 L247.33,131.88 L246.12,131.98 L244.85,132.05 L243.55,132.07 L242.24,132.05 L240.97,131.99 L239.75,131.88 L238.63,131.73 L237.63,131.55 L236.78,131.33 L236.08,131.09 L235.58,130.83 L235.26,130.55 L235.15,130.27 L235.25,129.99 L235.55,129.71 L236.04,129.45 L236.72,129.21 M238.26,128.18 L238.92,128.02 L239.68,127.87 L240.54,127.76 L241.47,127.68 L242.46,127.63 L243.46,127.61 L244.47,127.62 L245.46,127.68 L246.39,127.76 L247.26,127.87 L248.03,128.01 L248.69,128.18 L249.23,128.37 L249.62,128.57 L249.86,128.78 L249.95,129 L249.87,129.22 L249.64,129.43 L249.26,129.63 L248.74,129.82 L248.08,129.98 L247.32,130.13 L246.46,130.24 L245.53,130.32 L244.54,130.38 L243.54,130.39 L242.53,130.38 L241.54,130.33 L240.61,130.24 L239.74,130.13 L238.97,129.99 L238.31,129.82 L237.77,129.63 L237.38,129.43 L237.14,129.22 L237.05,129 L237.13,128.78 L237.36,128.57 L237.74,128.37 L238.26,128.18 M239.94,127.51 L240.38,127.4 L240.9,127.3 L241.49,127.23 L242.12,127.17 L242.79,127.13 L243.47,127.12 L244.16,127.13 L244.83,127.17 L245.47,127.23 L246.06,127.3 L246.59,127.4 L247.04,127.51 L247.4,127.64 L247.67,127.78 L247.83,127.92 L247.89,128.07 L247.84,128.22 L247.68,128.36 L247.42,128.5 L247.06,128.63 L246.62,128.74 L246.1,128.84 L245.51,128.91 L244.88,128.97 L244.21,129.01 L243.53,129.02 L242.84,129.01 L242.17,128.97 L241.53,128.92 L240.94,128.84 L240.41,128.74 L239.96,128.63 L239.6,128.5 L239.33,128.36 L239.17,128.22 L239.11,128.07 L239.16,127.92 L239.32,127.78 L239.58,127.64 L239.94,127.51 M241.7,127.22 L241.92,127.16 L242.18,127.11 L242.48,127.08 L242.8,127.05 L243.14,127.03 L243.49,127.02 L243.83,127.03 L244.17,127.05 L244.5,127.08 L244.8,127.11 L245.06,127.16 L245.29,127.22 L245.47,127.28 L245.61,127.35 L245.69,127.43 L245.72,127.5 L245.7,127.58 L245.62,127.65 L245.48,127.72 L245.3,127.78 L245.08,127.84 L244.82,127.89 L244.52,127.93 L244.2,127.96 L243.86,127.98 L243.51,127.98 L243.17,127.98 L242.83,127.96 L242.5,127.93 L242.2,127.89 L241.94,127.84 L241.71,127.79 L241.53,127.72 L241.39,127.65 L241.31,127.58 L241.28,127.5 L241.3,127.43 L241.38,127.35 L241.52,127.29 L241.7,127.22 M243.5,158.29 L241.7,157.82 L239.94,156.97 L238.26,155.78 L236.72,154.27 L235.34,152.48 L234.17,150.45 L233.22,148.23 L232.53,145.87 L232.11,143.44 L231.96,141 L232.11,138.6 L232.53,136.3 L233.22,134.16 L234.17,132.24 L235.34,130.58 L236.72,129.21 L238.26,128.18 L239.94,127.51 L241.7,127.22 L243.5,127.31 M243.5,158.29 L242.18,157.71 L240.9,156.76 L239.68,155.47 L238.56,153.87 L237.55,152 L236.69,149.9 L236,147.62 L235.5,145.23 L235.19,142.77 L235.09,140.32 L235.19,137.93 L235.5,135.66 L236,133.56 L236.69,131.69 L237.55,130.09 L238.56,128.81 L239.68,127.87 L240.9,127.3 L242.18,127.11 L243.5,127.31 M243.5,158.29 L242.8,157.64 L242.12,156.63 L241.47,155.28 L240.88,153.62 L240.34,151.69 L239.89,149.54 L239.52,147.23 L239.25,144.81 L239.09,142.34 L239.03,139.88 L239.09,137.5 L239.25,135.24 L239.52,133.17 L239.89,131.34 L240.34,129.79 L240.88,128.56 L241.47,127.68 L242.12,127.17 L242.8,127.05 L243.5,127.31 M243.5,158.29 L243.49,157.62 L243.47,156.58 L243.46,155.21 L243.45,153.53 L243.44,151.58 L243.43,149.42 L243.43,147.1 L243.42,144.67 L243.42,142.19 L243.42,139.73 L243.42,137.35 L243.42,135.1 L243.43,133.04 L243.43,131.21 L243.44,129.68 L243.45,128.47 L243.46,127.61 L243.47,127.12 L243.49,127.02 L243.5,127.31 M243.5,158.29 L244.17,157.64 L244.83,156.63 L245.46,155.27 L246.03,153.61 L246.55,151.69 L246.99,149.54 L247.34,147.23 L247.6,144.81 L247.76,142.34 L247.81,139.88 L247.76,137.49 L247.6,135.24 L247.34,133.17 L246.99,131.34 L246.55,129.79 L246.03,128.55 L245.46,127.68 L244.83,127.17 L244.17,127.05 L243.5,127.31 M243.5,158.29 L244.8,157.71 L246.06,156.76 L247.26,155.47 L248.37,153.87 L249.36,152 L250.2,149.89 L250.88,147.62 L251.38,145.22 L251.68,142.77 L251.78,140.32 L251.68,137.92 L251.38,135.65 L250.88,133.56 L250.2,131.69 L249.36,130.09 L248.37,128.81 L247.26,127.87 L246.06,127.3 L244.8,127.11 L243.5,127.31 M243.5,158.29 L245.29,157.81 L247.04,156.97 L248.69,155.78 L250.22,154.27 L251.59,152.48 L252.76,150.44 L253.69,148.22 L254.38,145.87 L254.8,143.44 L254.94,140.99 L254.8,138.59 L254.38,136.3 L253.69,134.16 L252.76,132.24 L251.59,130.57 L250.22,129.21 L248.69,128.18 L247.04,127.51 L245.29,127.22 L243.5,127.31 M243.5,158.29 L245.61,157.95 L247.67,157.24 L249.62,156.17 L251.42,154.77 L253.03,153.08 L254.41,151.13 L255.51,148.98 L256.32,146.68 L256.81,144.28 L256.98,141.85 L256.81,139.44 L256.32,137.11 L255.51,134.92 L254.41,132.93 L253.03,131.18 L251.42,129.71 L249.62,128.57 L247.67,127.78 L245.61,127.35 L243.5,127.31 M243.5,158.29 L245.72,158.1 L247.89,157.53 L249.95,156.6 L251.85,155.33 L253.54,153.75 L254.99,151.9 L256.15,149.83 L257,147.58 L257.52,145.22 L257.7,142.8 L257.52,140.37 L257,138.01 L256.15,135.77 L254.99,133.69 L253.54,131.85 L251.85,130.27 L249.95,129 L247.89,128.07 L245.72,127.5 L243.5,127.31 M243.5,158.29 L245.62,158.25 L247.68,157.82 L249.64,157.03 L251.45,155.89 L253.07,154.42 L254.45,152.67 L255.56,150.67 L256.37,148.48 L256.86,146.16 L257.03,143.75 L256.86,141.31 L256.37,138.91 L255.56,136.61 L254.45,134.46 L253.07,132.52 L251.45,130.83 L249.64,129.43 L247.68,128.36 L245.62,127.65 L243.5,127.31 M243.5,158.29 L245.3,158.38 L247.06,158.09 L248.74,157.42 L250.28,156.39 L251.66,155.02 L252.83,153.36 L253.78,151.44 L254.47,149.3 L254.89,147 L255.04,144.6 L254.89,142.16 L254.47,139.73 L253.78,137.37 L252.83,135.15 L251.66,133.12 L250.28,131.33 L248.74,129.82 L247.06,128.63 L245.3,127.78 L243.5,127.31 M243.5,158.29 L244.82,158.49 L246.1,158.3 L247.32,157.73 L248.44,156.79 L249.45,155.51 L250.31,153.91 L251,152.04 L251.5,149.94 L251.81,147.67 L251.91,145.28 L251.81,142.83 L251.5,140.37 L251,137.98 L250.31,135.7 L249.45,133.6 L248.44,131.73 L247.32,130.13 L246.1,128.84 L244.82,127.89 L243.5,127.31 M243.5,158.29 L244.2,158.55 L244.88,158.43 L245.53,157.92 L246.12,157.04 L246.66,155.81 L247.11,154.26 L247.48,152.43 L247.75,150.36 L247.91,148.1 L247.97,145.72 L247.91,143.26 L247.75,140.79 L247.48,138.37 L247.11,136.06 L246.66,133.91 L246.12,131.98 L245.53,130.32 L244.88,128.97 L244.2,127.96 L243.5,127.31 M243.5,158.29 L243.51,158.58 L243.53,158.48 L243.54,157.99 L243.55,157.13 L243.56,155.92 L243.57,154.39 L243.57,152.56 L243.58,150.5 L243.58,148.25 L243.58,145.87 L243.58,143.41 L243.58,140.93 L243.57,138.5 L243.57,136.18 L243.56,134.02 L243.55,132.07 L243.54,130.39 L243.53,129.02 L243.51,127.98 L243.5,127.31 M243.5,158.29 L242.83,158.55 L242.17,158.43 L241.54,157.92 L240.97,157.05 L240.45,155.81 L240.01,154.26 L239.66,152.43 L239.4,150.36 L239.24,148.11 L239.19,145.72 L239.24,143.26 L239.4,140.79 L239.66,138.37 L240.01,136.06 L240.45,133.91 L240.97,131.99 L241.54,130.33 L242.17,128.97 L242.83,127.96 L243.5,127.31 M243.5,158.29 L242.2,158.49 L240.94,158.3 L239.74,157.73 L238.63,156.79 L237.64,155.51 L236.8,153.91 L236.12,152.04 L235.62,149.95 L235.32,147.68 L235.22,145.28 L235.32,142.83 L235.62,140.38 L236.12,137.98 L236.8,135.71 L237.64,133.6 L238.63,131.73 L239.74,130.13 L240.94,128.84 L242.2,127.89 L243.5,127.31 M243.5,158.29 L241.71,158.38 L239.96,158.09 L238.31,157.42 L236.78,156.39 L235.41,155.03 L234.24,153.36 L233.31,151.44 L232.62,149.3 L232.2,147.01 L232.06,144.61 L232.2,142.16 L232.62,139.73 L233.31,137.38 L234.24,135.16 L235.41,133.12 L236.78,131.33 L238.31,129.82 L239.96,128.63 L241.71,127.79 L243.5,127.31 M243.5,158.29 L241.39,158.25 L239.33,157.82 L237.38,157.03 L235.58,155.89 L233.97,154.42 L232.59,152.67 L231.49,150.68 L230.68,148.49 L230.19,146.16 L230.02,143.75 L230.19,141.32 L230.68,138.92 L231.49,136.62 L232.59,134.47 L233.97,132.52 L235.58,130.83 L237.38,129.43 L239.33,128.36 L241.39,127.65 L243.5,127.31 M243.5,158.29 L241.28,158.1 L239.11,157.53 L237.05,156.6 L235.15,155.33 L233.46,153.75 L232.01,151.91 L230.85,149.83 L230,147.59 L229.48,145.23 L229.3,142.8 L229.48,140.38 L230,138.02 L230.85,135.77 L232.01,133.7 L233.46,131.85 L235.15,130.27 L237.05,129 L239.11,128.07 L241.28,127.5 L243.5,127.31 M243.5,158.29 L241.38,157.95 L239.32,157.24 L237.36,156.17 L235.55,154.77 L233.93,153.08 L232.55,151.14 L231.44,148.99 L230.63,146.69 L230.14,144.29 L229.97,141.85 L230.14,139.44 L230.63,137.12 L231.44,134.93 L232.55,132.93 L233.93,131.18 L235.55,129.71 L237.36,128.57 L239.32,127.78 L241.38,127.35 L243.5,127.31" stroke="#000" stroke-width="0.35" fill="none" opacity="0.3"/>
<ellipse cx="243.5" cy="142.8" rx="14.2" ry="15.7" fill="none" stroke="#000" stroke-width="0.5" opacity="0.4"/>
<path d="M231.3,62.5 A21.5,4.9 0 0 1 274.3,62.5 L274.3,251.9 A21.5,4.9 0 0 1 231.3,251.9 Z" fill="url(#g3)" opacity="0.78"/>
<path d="M274.3,62.5 V251.9 M273.25,60.99 V253.41 M270.19,59.62 V254.78 M265.44,58.54 V255.86 M259.44,57.84 V256.56 M252.8,57.6 V256.8 M246.16,57.84 V256.56 M240.16,58.54 V255.86 M235.41,59.62 V254.78 M232.35,60.99 V253.41 M231.3,62.5 V251.9" stroke="#000" stroke-width="0.5" fill="none" opacity="0.5"/>
<ellipse cx="252.8" cy="62.5" rx="21.5" ry="4.9" fill="#a0382a" opacity="1" stroke="#000" stroke-opacity="0.6" stroke-width="0.5"/>
<ellipse cx="252.8" cy="251.9" rx="21.5" ry="4.9" fill="none" stroke="#000" stroke-opacity="0.45" stroke-width="0.4"/>
<ellipse cx="243.5" cy="142.8" rx="14.2" ry="15.7" fill="url(#g4)" opacity="0.2"/>
<path d="M241.7,157.82 L241.92,157.76 L242.18,157.71 L242.48,157.67 L242.8,157.64 L243.14,157.62 L243.49,157.62 L243.83,157.62 L244.17,157.64 L244.5,157.67 L244.8,157.71 L245.06,157.76 L245.29,157.81 L245.47,157.88 L245.61,157.95 L245.69,158.02 L245.72,158.1 L245.7,158.17 L245.62,158.25 L245.48,158.31 L245.3,158.38 L245.08,158.44 L244.82,158.49 L244.52,158.52 L244.2,158.55 L243.86,158.57 L243.51,158.58 L243.17,158.57 L242.83,158.55 L242.5,158.52 L242.2,158.49 L241.94,158.44 L241.71,158.38 L241.53,158.32 L241.39,158.25 L241.31,158.17 L241.28,158.1 L241.3,158.02 L241.38,157.95 L241.52,157.88 L241.7,157.82 M239.94,156.97 L240.38,156.86 L240.9,156.76 L241.49,156.69 L242.12,156.63 L242.79,156.59 L243.47,156.58 L244.16,156.59 L244.83,156.63 L245.47,156.68 L246.06,156.76 L246.59,156.86 L247.04,156.97 L247.4,157.1 L247.67,157.24 L247.83,157.38 L247.89,157.53 L247.84,157.68 L247.68,157.82 L247.42,157.96 L247.06,158.09 L246.62,158.2 L246.1,158.3 L245.51,158.37 L244.88,158.43 L244.21,158.47 L243.53,158.48 L242.84,158.47 L242.17,158.43 L241.53,158.37 L240.94,158.3 L240.41,158.2 L239.96,158.09 L239.6,157.96 L239.33,157.82 L239.17,157.68 L239.11,157.53 L239.16,157.38 L239.32,157.24 L239.58,157.1 L239.94,156.97 M238.26,155.78 L238.92,155.62 L239.68,155.47 L240.54,155.36 L241.47,155.28 L242.46,155.22 L243.46,155.21 L244.47,155.22 L245.46,155.27 L246.39,155.36 L247.26,155.47 L248.03,155.61 L248.69,155.78 L249.23,155.97 L249.62,156.17 L249.86,156.38 L249.95,156.6 L249.87,156.82 L249.64,157.03 L249.26,157.23 L248.74,157.42 L248.08,157.58 L247.32,157.73 L246.46,157.84 L245.53,157.92 L244.54,157.97 L243.54,157.99 L242.53,157.98 L241.54,157.92 L240.61,157.84 L239.74,157.73 L238.97,157.59 L238.31,157.42 L237.77,157.23 L237.38,157.03 L237.14,156.82 L237.05,156.6 L237.13,156.38 L237.36,156.17 L237.74,155.97 L238.26,155.78 M236.72,154.27 L237.56,154.06 L238.56,153.87 L239.67,153.72 L240.88,153.62 L242.15,153.55 L243.45,153.53 L244.76,153.55 L246.03,153.61 L247.25,153.72 L248.37,153.87 L249.37,154.05 L250.22,154.27 L250.92,154.51 L251.42,154.77 L251.74,155.05 L251.85,155.33 L251.75,155.61 L251.45,155.89 L250.96,156.15 L250.28,156.39 L249.44,156.6 L248.44,156.79 L247.33,156.94 L246.12,157.04 L244.85,157.11 L243.55,157.13 L242.24,157.11 L240.97,157.05 L239.75,156.94 L238.63,156.79 L237.63,156.61 L236.78,156.39 L236.08,156.15 L235.58,155.89 L235.26,155.61 L235.15,155.33 L235.25,155.05 L235.55,154.77 L236.04,154.51 L236.72,154.27 M235.34,152.48 L236.36,152.22 L237.55,152 L238.89,151.82 L240.34,151.69 L241.87,151.61 L243.44,151.58 L245.01,151.61 L246.55,151.69 L248.01,151.82 L249.36,152 L250.56,152.22 L251.59,152.48 L252.42,152.77 L253.03,153.08 L253.41,153.41 L253.54,153.75 L253.43,154.09 L253.07,154.42 L252.47,154.73 L251.66,155.02 L250.64,155.28 L249.45,155.51 L248.11,155.68 L246.66,155.81 L245.13,155.89 L243.56,155.92 L241.99,155.89 L240.45,155.81 L238.99,155.69 L237.64,155.51 L236.44,155.29 L235.41,155.03 L234.58,154.74 L233.97,154.42 L233.59,154.09 L233.46,153.75 L233.57,153.41 L233.93,153.08 L234.53,152.77 L235.34,152.48 M234.17,150.45 L235.33,150.15 L236.69,149.9 L238.23,149.69 L239.89,149.54 L241.64,149.45 L243.43,149.42 L245.23,149.45 L246.99,149.54 L248.66,149.69 L250.2,149.89 L251.58,150.15 L252.76,150.44 L253.71,150.77 L254.41,151.13 L254.84,151.51 L254.99,151.9 L254.86,152.29 L254.45,152.67 L253.77,153.03 L252.83,153.36 L251.67,153.66 L250.31,153.91 L248.77,154.11 L247.11,154.26 L245.36,154.35 L243.57,154.39 L241.77,154.35 L240.01,154.26 L238.34,154.12 L236.8,153.91 L235.42,153.66 L234.24,153.36 L233.29,153.03 L232.59,152.67 L232.16,152.29 L232.01,151.91 L232.14,151.52 L232.55,151.14 L233.23,150.78 L234.17,150.45 M233.22,148.23 L234.5,147.9 L236,147.62 L237.69,147.4 L239.52,147.23 L241.45,147.13 L243.43,147.1 L245.41,147.13 L247.34,147.23 L249.18,147.4 L250.88,147.62 L252.4,147.9 L253.69,148.22 L254.74,148.59 L255.51,148.98 L255.98,149.4 L256.15,149.83 L256.01,150.26 L255.56,150.67 L254.81,151.07 L253.78,151.44 L252.5,151.76 L251,152.04 L249.31,152.27 L247.48,152.43 L245.55,152.53 L243.57,152.56 L241.59,152.53 L239.66,152.43 L237.82,152.27 L236.12,152.04 L234.6,151.77 L233.31,151.44 L232.26,151.07 L231.49,150.68 L231.02,150.26 L230.85,149.83 L230.99,149.41 L231.44,148.99 L232.19,148.59 L233.22,148.23 M232.53,145.87 L233.9,145.53 L235.5,145.23 L237.3,144.99 L239.25,144.81 L241.31,144.71 L243.42,144.67 L245.54,144.7 L247.6,144.81 L249.56,144.99 L251.38,145.22 L252.99,145.52 L254.38,145.87 L255.5,146.26 L256.32,146.68 L256.83,147.13 L257,147.58 L256.85,148.04 L256.37,148.48 L255.57,148.91 L254.47,149.3 L253.1,149.65 L251.5,149.94 L249.7,150.18 L247.75,150.36 L245.69,150.47 L243.58,150.5 L241.46,150.47 L239.4,150.36 L237.44,150.19 L235.62,149.95 L234.01,149.65 L232.62,149.3 L231.5,148.91 L230.68,148.49 L230.17,148.05 L230,147.59 L230.15,147.13 L230.63,146.69 L231.43,146.26 L232.53,145.87 M232.11,143.44 L233.53,143.08 L235.19,142.77 L237.06,142.52 L239.09,142.34 L241.23,142.23 L243.42,142.19 L245.61,142.23 L247.76,142.34 L249.8,142.52 L251.68,142.77 L253.36,143.08 L254.8,143.44 L255.96,143.84 L256.81,144.28 L257.34,144.75 L257.52,145.22 L257.36,145.69 L256.86,146.16 L256.03,146.6 L254.89,147 L253.47,147.36 L251.81,147.67 L249.94,147.92 L247.91,148.1 L245.77,148.21 L243.58,148.25 L241.39,148.22 L239.24,148.11 L237.2,147.92 L235.32,147.68 L233.64,147.37 L232.2,147.01 L231.04,146.6 L230.19,146.16 L229.66,145.7 L229.48,145.23 L229.64,144.75 L230.14,144.29 L230.97,143.85 L232.11,143.44 M231.96,141 L233.4,140.63 L235.09,140.32 L236.98,140.07 L239.03,139.88 L241.2,139.77 L243.42,139.73 L245.64,139.77 L247.81,139.88 L249.87,140.07 L251.78,140.32 L253.48,140.63 L254.94,140.99 L256.12,141.4 L256.98,141.85 L257.51,142.32 L257.7,142.8 L257.54,143.28 L257.03,143.75 L256.19,144.19 L255.04,144.6 L253.6,144.97 L251.91,145.28 L250.02,145.53 L247.97,145.72 L245.8,145.83 L243.58,145.87 L241.36,145.83 L239.19,145.72 L237.13,145.53 L235.22,145.28 L233.52,144.97 L232.06,144.61 L230.88,144.2 L230.02,143.75 L229.49,143.28 L229.3,142.8 L229.46,142.32 L229.97,141.85 L230.81,141.41 L231.96,141 M232.11,138.6 L233.53,138.24 L235.19,137.93 L237.06,137.68 L239.09,137.5 L241.23,137.39 L243.42,137.35 L245.61,137.38 L247.76,137.49 L249.8,137.68 L251.68,137.92 L253.36,138.23 L254.8,138.59 L255.96,139 L256.81,139.44 L257.34,139.9 L257.52,140.37 L257.36,140.85 L256.86,141.31 L256.03,141.75 L254.89,142.16 L253.47,142.52 L251.81,142.83 L249.94,143.08 L247.91,143.26 L245.77,143.37 L243.58,143.41 L241.39,143.37 L239.24,143.26 L237.2,143.08 L235.32,142.83 L233.64,142.52 L232.2,142.16 L231.04,141.76 L230.19,141.32 L229.66,140.85 L229.48,140.38 L229.64,139.91 L230.14,139.44 L230.97,139 L232.11,138.6 M232.53,136.3 L233.9,135.95 L235.5,135.66 L237.3,135.42 L239.25,135.24 L241.31,135.13 L243.42,135.1 L245.54,135.13 L247.6,135.24 L249.56,135.41 L251.38,135.65 L252.99,135.95 L254.38,136.3 L255.5,136.69 L256.32,137.11 L256.83,137.55 L257,138.01 L256.85,138.47 L256.37,138.91 L255.57,139.34 L254.47,139.73 L253.1,140.07 L251.5,140.37 L249.7,140.61 L247.75,140.79 L245.69,140.89 L243.58,140.93 L241.46,140.9 L239.4,140.79 L237.44,140.61 L235.62,140.38 L234.01,140.08 L232.62,139.73 L231.5,139.34 L230.68,138.92 L230.17,138.47 L230,138.02 L230.15,137.56 L230.63,137.12 L231.43,136.69 L232.53,136.3 M233.22,134.16 L234.5,133.84 L236,133.56 L237.69,133.33 L239.52,133.17 L241.45,133.07 L243.43,133.04 L245.41,133.07 L247.34,133.17 L249.18,133.33 L250.88,133.56 L252.4,133.83 L253.69,134.16 L254.74,134.53 L255.51,134.92 L255.98,135.34 L256.15,135.77 L256.01,136.19 L255.56,136.61 L254.81,137.01 L253.78,137.37 L252.5,137.7 L251,137.98 L249.31,138.2 L247.48,138.37 L245.55,138.47 L243.57,138.5 L241.59,138.47 L239.66,138.37 L237.82,138.2 L236.12,137.98 L234.6,137.7 L233.31,137.38 L232.26,137.01 L231.49,136.62 L231.02,136.2 L230.85,135.77 L230.99,135.34 L231.44,134.93 L232.19,134.53 L233.22,134.16 M234.17,132.24 L235.33,131.94 L236.69,131.69 L238.23,131.49 L239.89,131.34 L241.64,131.25 L243.43,131.21 L245.23,131.25 L246.99,131.34 L248.66,131.48 L250.2,131.69 L251.58,131.94 L252.76,132.24 L253.71,132.57 L254.41,132.93 L254.84,133.31 L254.99,133.69 L254.86,134.08 L254.45,134.46 L253.77,134.82 L252.83,135.15 L251.67,135.45 L250.31,135.7 L248.77,135.91 L247.11,136.06 L245.36,136.15 L243.57,136.18 L241.77,136.15 L240.01,136.06 L238.34,135.91 L236.8,135.71 L235.42,135.45 L234.24,135.16 L233.29,134.83 L232.59,134.47 L232.16,134.09 L232.01,133.7 L232.14,133.31 L232.55,132.93 L233.23,132.57 L234.17,132.24 M235.34,130.58 L236.36,130.32 L237.55,130.09 L238.89,129.92 L240.34,129.79 L241.87,129.71 L243.44,129.68 L245.01,129.71 L246.55,129.79 L248.01,129.91 L249.36,130.09 L250.56,130.31 L251.59,130.57 L252.42,130.86 L253.03,131.18 L253.41,131.51 L253.54,131.85 L253.43,132.19 L253.07,132.52 L252.47,132.83 L251.66,133.12 L250.64,133.38 L249.45,133.6 L248.11,133.78 L246.66,133.91 L245.13,133.99 L243.56,134.02 L241.99,133.99 L240.45,133.91 L238.99,133.78 L237.64,133.6 L236.44,133.38 L235.41,133.12 L234.58,132.83 L233.97,132.52 L233.59,132.19 L233.46,131.85 L233.57,131.51 L233.93,131.18 L234.53,130.87 L235.34,130.58 M236.72,129.21 L237.56,129 L238.56,128.81 L239.67,128.66 L240.88,128.56 L242.15,128.49 L243.45,128.47 L244.76,128.49 L246.03,128.55 L247.25,128.66 L248.37,128.81 L249.37,128.99 L250.22,129.21 L250.92,129.45 L251.42,129.71 L251.74,129.99 L251.85,130.27 L251.75,130.55 L251.45,130.83 L250.96,131.09 L250.28,131.33 L249.44,131.54 L248.44,131.73 L247.33,131.88 L246.12,131.98 L244.85,132.05 L243.55,132.07 L242.24,132.05 L240.97,131.99 L239.75,131.88 L238.63,131.73 L237.63,131.55 L236.78,131.33 L236.08,131.09 L235.58,130.83 L235.26,130.55 L235.15,130.27 L235.25,129.99 L235.55,129.71 L236.04,129.45 L236.72,129.21 M238.26,128.18 L238.92,128.02 L239.68,127.87 L240.54,127.76 L241.47,127.68 L242.46,127.63 L243.46,127.61 L244.47,127.62 L245.46,127.68 L246.39,127.76 L247.26,127.87 L248.03,128.01 L248.69,128.18 L249.23,128.37 L249.62,128.57 L249.86,128.78 L249.95,129 L249.87,129.22 L249.64,129.43 L249.26,129.63 L248.74,129.82 L248.08,129.98 L247.32,130.13 L246.46,130.24 L245.53,130.32 L244.54,130.38 L243.54,130.39 L242.53,130.38 L241.54,130.33 L240.61,130.24 L239.74,130.13 L238.97,129.99 L238.31,129.82 L237.77,129.63 L237.38,129.43 L237.14,129.22 L237.05,129 L237.13,128.78 L237.36,128.57 L237.74,128.37 L238.26,128.18 M239.94,127.51 L240.38,127.4 L240.9,127.3 L241.49,127.23 L242.12,127.17 L242.79,127.13 L243.47,127.12 L244.16,127.13 L244.83,127.17 L245.47,127.23 L246.06,127.3 L246.59,127.4 L247.04,127.51 L247.4,127.64 L247.67,127.78 L247.83,127.92 L247.89,128.07 L247.84,128.22 L247.68,128.36 L247.42,128.5 L247.06,128.63 L246.62,128.74 L246.1,128.84 L245.51,128.91 L244.88,128.97 L244.21,129.01 L243.53,129.02 L242.84,129.01 L242.17,128.97 L241.53,128.92 L240.94,128.84 L240.41,128.74 L239.96,128.63 L239.6,128.5 L239.33,128.36 L239.17,128.22 L239.11,128.07 L239.16,127.92 L239.32,127.78 L239.58,127.64 L239.94,127.51 M241.7,127.22 L241.92,127.16 L242.18,127.11 L242.48,127.08 L242.8,127.05 L243.14,127.03 L243.49,127.02 L243.83,127.03 L244.17,127.05 L244.5,127.08 L244.8,127.11 L245.06,127.16 L245.29,127.22 L245.47,127.28 L245.61,127.35 L245.69,127.43 L245.72,127.5 L245.7,127.58 L245.62,127.65 L245.48,127.72 L245.3,127.78 L245.08,127.84 L244.82,127.89 L244.52,127.93 L244.2,127.96 L243.86,127.98 L243.51,127.98 L243.17,127.98 L242.83,127.96 L242.5,127.93 L242.2,127.89 L241.94,127.84 L241.71,127.79 L241.53,127.72 L241.39,127.65 L241.31,127.58 L241.28,127.5 L241.3,127.43 L241.38,127.35 L241.52,127.29 L241.7,127.22 M243.5,158.29 L241.7,157.82 L239.94,156.97 L238.26,155.78 L236.72,154.27 L235.34,152.48 L234.17,150.45 L233.22,148.23 L232.53,145.87 L232.11,143.44 L231.96,141 L232.11,138.6 L232.53,136.3 L233.22,134.16 L234.17,132.24 L235.34,130.58 L236.72,129.21 L238.26,128.18 L239.94,127.51 L241.7,127.22 L243.5,127.31 M243.5,158.29 L242.18,157.71 L240.9,156.76 L239.68,155.47 L238.56,153.87 L237.55,152 L236.69,149.9 L236,147.62 L235.5,145.23 L235.19,142.77 L235.09,140.32 L235.19,137.93 L235.5,135.66 L236,133.56 L236.69,131.69 L237.55,130.09 L238.56,128.81 L239.68,127.87 L240.9,127.3 L242.18,127.11 L243.5,127.31 M243.5,158.29 L242.8,157.64 L242.12,156.63 L241.47,155.28 L240.88,153.62 L240.34,151.69 L239.89,149.54 L239.52,147.23 L239.25,144.81 L239.09,142.34 L239.03,139.88 L239.09,137.5 L239.25,135.24 L239.52,133.17 L239.89,131.34 L240.34,129.79 L240.88,128.56 L241.47,127.68 L242.12,127.17 L242.8,127.05 L243.5,127.31 M243.5,158.29 L243.49,157.62 L243.47,156.58 L243.46,155.21 L243.45,153.53 L243.44,151.58 L243.43,149.42 L243.43,147.1 L243.42,144.67 L243.42,142.19 L243.42,139.73 L243.42,137.35 L243.42,135.1 L243.43,133.04 L243.43,131.21 L243.44,129.68 L243.45,128.47 L243.46,127.61 L243.47,127.12 L243.49,127.02 L243.5,127.31 M243.5,158.29 L244.17,157.64 L244.83,156.63 L245.46,155.27 L246.03,153.61 L246.55,151.69 L246.99,149.54 L247.34,147.23 L247.6,144.81 L247.76,142.34 L247.81,139.88 L247.76,137.49 L247.6,135.24 L247.34,133.17 L246.99,131.34 L246.55,129.79 L246.03,128.55 L245.46,127.68 L244.83,127.17 L244.17,127.05 L243.5,127.31 M243.5,158.29 L244.8,157.71 L246.06,156.76 L247.26,155.47 L248.37,153.87 L249.36,152 L250.2,149.89 L250.88,147.62 L251.38,145.22 L251.68,142.77 L251.78,140.32 L251.68,137.92 L251.38,135.65 L250.88,133.56 L250.2,131.69 L249.36,130.09 L248.37,128.81 L247.26,127.87 L246.06,127.3 L244.8,127.11 L243.5,127.31 M243.5,158.29 L245.29,157.81 L247.04,156.97 L248.69,155.78 L250.22,154.27 L251.59,152.48 L252.76,150.44 L253.69,148.22 L254.38,145.87 L254.8,143.44 L254.94,140.99 L254.8,138.59 L254.38,136.3 L253.69,134.16 L252.76,132.24 L251.59,130.57 L250.22,129.21 L248.69,128.18 L247.04,127.51 L245.29,127.22 L243.5,127.31 M243.5,158.29 L245.61,157.95 L247.67,157.24 L249.62,156.17 L251.42,154.77 L253.03,153.08 L254.41,151.13 L255.51,148.98 L256.32,146.68 L256.81,144.28 L256.98,141.85 L256.81,139.44 L256.32,137.11 L255.51,134.92 L254.41,132.93 L253.03,131.18 L251.42,129.71 L249.62,128.57 L247.67,127.78 L245.61,127.35 L243.5,127.31 M243.5,158.29 L245.72,158.1 L247.89,157.53 L249.95,156.6 L251.85,155.33 L253.54,153.75 L254.99,151.9 L256.15,149.83 L257,147.58 L257.52,145.22 L257.7,142.8 L257.52,140.37 L257,138.01 L256.15,135.77 L254.99,133.69 L253.54,131.85 L251.85,130.27 L249.95,129 L247.89,128.07 L245.72,127.5 L243.5,127.31 M243.5,158.29 L245.62,158.25 L247.68,157.82 L249.64,157.03 L251.45,155.89 L253.07,154.42 L254.45,152.67 L255.56,150.67 L256.37,148.48 L256.86,146.16 L257.03,143.75 L256.86,141.31 L256.37,138.91 L255.56,136.61 L254.45,134.46 L253.07,132.52 L251.45,130.83 L249.64,129.43 L247.68,128.36 L245.62,127.65 L243.5,127.31 M243.5,158.29 L245.3,158.38 L247.06,158.09 L248.74,157.42 L250.28,156.39 L251.66,155.02 L252.83,153.36 L253.78,151.44 L254.47,149.3 L254.89,147 L255.04,144.6 L254.89,142.16 L254.47,139.73 L253.78,137.37 L252.83,135.15 L251.66,133.12 L250.28,131.33 L248.74,129.82 L247.06,128.63 L245.3,127.78 L243.5,127.31 M243.5,158.29 L244.82,158.49 L246.1,158.3 L247.32,157.73 L248.44,156.79 L249.45,155.51 L250.31,153.91 L251,152.04 L251.5,149.94 L251.81,147.67 L251.91,145.28 L251.81,142.83 L251.5,140.37 L251,137.98 L250.31,135.7 L249.45,133.6 L248.44,131.73 L247.32,130.13 L246.1,128.84 L244.82,127.89 L243.5,127.31 M243.5,158.29 L244.2,158.55 L244.88,158.43 L245.53,157.92 L246.12,157.04 L246.66,155.81 L247.11,154.26 L247.48,152.43 L247.75,150.36 L247.91,148.1 L247.97,145.72 L247.91,143.26 L247.75,140.79 L247.48,138.37 L247.11,136.06 L246.66,133.91 L246.12,131.98 L245.53,130.32 L244.88,128.97 L244.2,127.96 L243.5,127.31 M243.5,158.29 L243.51,158.58 L243.53,158.48 L243.54,157.99 L243.55,157.13 L243.56,155.92 L243.57,154.39 L243.57,152.56 L243.58,150.5 L243.58,148.25 L243.58,145.87 L243.58,143.41 L243.58,140.93 L243.57,138.5 L243.57,136.18 L243.56,134.02 L243.55,132.07 L243.54,130.39 L243.53,129.02 L243.51,127.98 L243.5,127.31 M243.5,158.29 L242.83,158.55 L242.17,158.43 L241.54,157.92 L240.97,157.05 L240.45,155.81 L240.01,154.26 L239.66,152.43 L239.4,150.36 L239.24,148.11 L239.19,145.72 L239.24,143.26 L239.4,140.79 L239.66,138.37 L240.01,136.06 L240.45,133.91 L240.97,131.99 L241.54,130.33 L242.17,128.97 L242.83,127.96 L243.5,127.31 M243.5,158.29 L242.2,158.49 L240.94,158.3 L239.74,157.73 L238.63,156.79 L237.64,155.51 L236.8,153.91 L236.12,152.04 L235.62,149.95 L235.32,147.68 L235.22,145.28 L235.32,142.83 L235.62,140.38 L236.12,137.98 L236.8,135.71 L237.64,133.6 L238.63,131.73 L239.74,130.13 L240.94,128.84 L242.2,127.89 L243.5,127.31 M243.5,158.29 L241.71,158.38 L239.96,158.09 L238.31,157.42 L236.78,156.39 L235.41,155.03 L234.24,153.36 L233.31,151.44 L232.62,149.3 L232.2,147.01 L232.06,144.61 L232.2,142.16 L232.62,139.73 L233.31,137.38 L234.24,135.16 L235.41,133.12 L236.78,131.33 L238.31,129.82 L239.96,128.63 L241.71,127.79 L243.5,127.31 M243.5,158.29 L241.39,158.25 L239.33,157.82 L237.38,157.03 L235.58,155.89 L233.97,154.42 L232.59,152.67 L231.49,150.68 L230.68,148.49 L230.19,146.16 L230.02,143.75 L230.19,141.32 L230.68,138.92 L231.49,136.62 L232.59,134.47 L233.97,132.52 L235.58,130.83 L237.38,129.43 L239.33,128.36 L241.39,127.65 L243.5,127.31 M243.5,158.29 L241.28,158.1 L239.11,157.53 L237.05,156.6 L235.15,155.33 L233.46,153.75 L232.01,151.91 L230.85,149.83 L230,147.59 L229.48,145.23 L229.3,142.8 L229.48,140.38 L230,138.02 L230.85,135.77 L232.01,133.7 L233.46,131.85 L235.15,130.27 L237.05,129 L239.11,128.07 L241.28,127.5 L243.5,127.31 M243.5,158.29 L241.38,157.95 L239.32,157.24 L237.36,156.17 L235.55,154.77 L233.93,153.08 L232.55,151.14 L231.44,148.99 L230.63,146.69 L230.14,144.29 L229.97,141.85 L230.14,139.44 L230.63,137.12 L231.44,134.93 L232.55,132.93 L233.93,131.18 L235.55,129.71 L237.36,128.57 L239.32,127.78 L241.38,127.35 L243.5,127.31" stroke="#000" stroke-width="0.35" fill="none" opacity="0.15"/>
<ellipse cx="243.5" cy="142.8" rx="14.2" ry="15.7" fill="none" stroke="#000" stroke-width="0.5" opacity="0.1"/>
<path d="M231.3,155.3 A21.5,4.8 0 0 1 274.3,155.3 L274.3,251.9 A21.5,4.8 0 0 1 231.3,251.9 Z" fill="url(#g5)" opacity="0.6"/>
<ellipse cx="252.8" cy="251.9" rx="21.5" ry="4.8" fill="#4f86e6" opacity="0.9"/>
<path d="M274.3,155.3 V251.9 M273.25,153.82 V253.38 M270.19,152.48 V254.72 M265.44,151.42 V255.78 M259.44,150.73 V256.47 M252.8,150.5 V256.7 M246.16,150.73 V256.47 M240.16,151.42 V255.78 M235.41,152.48 V254.72 M232.35,153.82 V253.38 M231.3,155.3 V251.9" stroke="#000" stroke-width="0.5" fill="none" opacity="0.15"/>
<ellipse cx="252.8" cy="155.3" rx="21.5" ry="4.8" fill="#6fd0a8" opacity="0.55" stroke="#000" stroke-opacity="0.6" stroke-width="0.5"/>
<ellipse cx="252.8" cy="251.9" rx="21.5" ry="4.8" fill="none" stroke="#000" stroke-opacity="0.45" stroke-width="0.4"/>
<path d="M231.3,240.3 A21.5,3.8 0 0 0 274.3,240.3 L274.3,252.1 A21.5,4.5 0 0 0 231.3,252.1 Z" fill="#9c86dc" opacity="0.45"/>
<path d="M289.1,170.1 A21.6,4.5 0 0 1 332.3,170.1 L332.3,260.7 A21.6,4.5 0 0 1 289.1,260.7 Z" fill="url(#g6)" opacity="0.75"/>
<ellipse cx="310.7" cy="260.7" rx="21.6" ry="4.5" fill="#a02c80" opacity="0.85"/>
<path d="M332.3,170.1 V260.7 M331.24,168.71 V262.09 M328.17,167.45 V263.35 M323.4,166.46 V264.34 M317.37,165.82 V264.98 M310.7,165.6 V265.2 M304.03,165.82 V264.98 M298,166.46 V264.34 M293.23,167.45 V263.35 M290.16,168.71 V262.09 M289.1,170.1 V260.7" stroke="#000" stroke-width="0.5" fill="none" opacity="0.5"/>
<ellipse cx="310.7" cy="170.1" rx="21.6" ry="4.5" fill="#3f9090" opacity="0.85" stroke="#000" stroke-opacity="0.6" stroke-width="0.5"/>
<ellipse cx="310.7" cy="260.7" rx="21.6" ry="4.5" fill="none" stroke="#000" stroke-opacity="0.45" stroke-width="0.4"/>
<path d="M357.2,64.9 A22,4.7 0 0 1 401.2,64.9 L401.2,269.3 A22,4.7 0 0 1 357.2,269.3 Z" fill="url(#g7)" opacity="0.78"/>
<ellipse cx="379.2" cy="269.3" rx="22" ry="4.7" fill="#6d5a8e" opacity="0.85"/>
<path d="M401.2,64.9 V269.3 M400.12,63.45 V270.75 M397,62.14 V272.06 M392.13,61.1 V273.1 M386,60.43 V273.77 M379.2,60.2 V274 M372.4,60.43 V273.77 M366.27,61.1 V273.1 M361.4,62.14 V272.06 M358.28,63.45 V270.75 M357.2,64.9 V269.3" stroke="#000" stroke-width="0.5" fill="none" opacity="0.5"/>
<ellipse cx="379.2" cy="64.9" rx="22" ry="4.7" fill="#7fd23f" opacity="1" stroke="#000" stroke-opacity="0.6" stroke-width="0.5"/>
<ellipse cx="379.2" cy="269.3" rx="22" ry="4.7" fill="none" stroke="#000" stroke-opacity="0.45" stroke-width="0.4"/>
<path d="M184.1,236.9 A7.5,1.5 0 0 1 199.1,236.9 L199.1,267.2 A7.5,1.5 0 0 1 184.1,267.2 Z" fill="url(#g8)" opacity="0.8"/>
<ellipse cx="191.6" cy="267.2" rx="7.5" ry="1.5" fill="#84d86c" opacity="0.8"/>
<path d="M199.1,236.9 V267.2 M197.67,236.02 V268.08 M193.92,235.47 V268.63 M189.28,235.47 V268.63 M185.53,236.02 V268.08 M184.1,236.9 V267.2" stroke="#000" stroke-width="0.5" fill="none" opacity="0.32"/>
<ellipse cx="191.6" cy="236.9" rx="7.5" ry="1.5" fill="#84d86c" opacity="0.9" stroke="#000" stroke-opacity="0.6" stroke-width="0.5"/>
<ellipse cx="191.6" cy="267.2" rx="7.5" ry="1.5" fill="none" stroke="#000" stroke-opacity="0.45" stroke-width="0.4"/>
<ellipse cx="338.1" cy="202.7" rx="20.8" ry="22.9" fill="url(#g9)" opacity="0.45"/>
<path d="M335.46,224.6 L335.79,224.51 L336.17,224.44 L336.61,224.38 L337.08,224.34 L337.57,224.32 L338.08,224.31 L338.59,224.32 L339.09,224.34 L339.56,224.38 L340,224.44 L340.39,224.51 L340.72,224.6 L340.99,224.69 L341.19,224.79 L341.31,224.9 L341.35,225.01 L341.32,225.12 L341.2,225.23 L341.01,225.33 L340.74,225.42 L340.41,225.51 L340.03,225.58 L339.59,225.64 L339.12,225.68 L338.63,225.7 L338.12,225.71 L337.61,225.7 L337.11,225.68 L336.64,225.64 L336.2,225.58 L335.81,225.51 L335.48,225.42 L335.21,225.33 L335.01,225.23 L334.89,225.12 L334.85,225.01 L334.88,224.9 L335,224.79 L335.19,224.69 L335.46,224.6 M332.88,223.37 L333.53,223.2 L334.29,223.06 L335.15,222.95 L336.08,222.86 L337.06,222.81 L338.06,222.79 L339.07,222.81 L340.05,222.86 L340.99,222.94 L341.85,223.06 L342.62,223.2 L343.28,223.37 L343.81,223.55 L344.2,223.75 L344.44,223.96 L344.53,224.18 L344.45,224.4 L344.22,224.61 L343.84,224.81 L343.32,225 L342.67,225.16 L341.91,225.3 L341.05,225.42 L340.12,225.5 L339.14,225.55 L338.14,225.57 L337.13,225.55 L336.15,225.5 L335.21,225.42 L334.35,225.31 L333.58,225.17 L332.92,225 L332.39,224.81 L332,224.61 L331.76,224.4 L331.67,224.18 L331.75,223.97 L331.98,223.75 L332.36,223.55 L332.88,223.37 M330.43,221.63 L331.38,221.39 L332.51,221.18 L333.76,221.01 L335.13,220.89 L336.57,220.81 L338.05,220.79 L339.52,220.81 L340.97,220.89 L342.34,221.01 L343.61,221.17 L344.74,221.38 L345.71,221.63 L346.49,221.9 L347.06,222.19 L347.42,222.5 L347.54,222.82 L347.44,223.14 L347.1,223.45 L346.54,223.75 L345.77,224.02 L344.82,224.27 L343.69,224.48 L342.44,224.64 L341.07,224.77 L339.63,224.84 L338.15,224.87 L336.68,224.84 L335.23,224.77 L333.86,224.64 L332.59,224.48 L331.46,224.27 L330.49,224.03 L329.71,223.75 L329.14,223.46 L328.78,223.15 L328.66,222.83 L328.76,222.51 L329.1,222.2 L329.66,221.9 L330.43,221.63 M328.17,219.42 L329.41,219.11 L330.86,218.84 L332.49,218.62 L334.26,218.46 L336.12,218.37 L338.03,218.33 L339.94,218.37 L341.81,218.46 L343.59,218.62 L345.23,218.84 L346.7,219.1 L347.95,219.42 L348.96,219.77 L349.71,220.16 L350.16,220.56 L350.33,220.97 L350.19,221.38 L349.75,221.79 L349.02,222.17 L348.03,222.52 L346.79,222.84 L345.34,223.11 L343.71,223.33 L341.94,223.48 L340.08,223.58 L338.17,223.61 L336.26,223.58 L334.39,223.49 L332.61,223.33 L330.97,223.11 L329.5,222.84 L328.25,222.53 L327.24,222.18 L326.49,221.79 L326.04,221.39 L325.87,220.98 L326.01,220.56 L326.45,220.16 L327.18,219.78 L328.17,219.42 M326.15,216.81 L327.64,216.43 L329.39,216.1 L331.35,215.84 L333.48,215.65 L335.72,215.53 L338.02,215.5 L340.32,215.53 L342.56,215.65 L344.7,215.84 L346.68,216.1 L348.44,216.42 L349.95,216.8 L351.17,217.23 L352.06,217.69 L352.61,218.17 L352.81,218.67 L352.64,219.17 L352.11,219.65 L351.24,220.11 L350.05,220.54 L348.56,220.92 L346.81,221.24 L344.85,221.5 L342.72,221.69 L340.48,221.81 L338.18,221.85 L335.88,221.81 L333.64,221.69 L331.5,221.5 L329.52,221.24 L327.76,220.92 L326.25,220.54 L325.03,220.12 L324.14,219.66 L323.59,219.17 L323.39,218.68 L323.56,218.18 L324.09,217.69 L324.96,217.23 L326.15,216.81 M324.43,213.84 L326.13,213.41 L328.13,213.04 L330.37,212.74 L332.81,212.52 L335.37,212.39 L338,212.34 L340.64,212.39 L343.21,212.52 L345.65,212.74 L347.91,213.03 L349.93,213.4 L351.66,213.84 L353.05,214.32 L354.07,214.85 L354.71,215.4 L354.93,215.97 L354.74,216.54 L354.13,217.1 L353.14,217.62 L351.77,218.11 L350.07,218.54 L348.07,218.92 L345.83,219.21 L343.39,219.43 L340.83,219.57 L338.2,219.61 L335.56,219.57 L332.99,219.43 L330.55,219.22 L328.29,218.92 L326.27,218.55 L324.54,218.12 L323.15,217.63 L322.13,217.1 L321.49,216.55 L321.27,215.98 L321.46,215.41 L322.07,214.86 L323.06,214.33 L324.43,213.84 M323.04,210.6 L324.92,210.13 L327.12,209.72 L329.59,209.39 L332.27,209.15 L335.1,209 L337.99,208.95 L340.89,209 L343.73,209.15 L346.42,209.39 L348.91,209.71 L351.13,210.12 L353.03,210.6 L354.56,211.13 L355.69,211.71 L356.39,212.32 L356.63,212.95 L356.42,213.58 L355.76,214.19 L354.66,214.77 L353.16,215.3 L351.28,215.78 L349.08,216.19 L346.61,216.52 L343.93,216.76 L341.1,216.91 L338.21,216.96 L335.31,216.91 L332.47,216.76 L329.78,216.52 L327.29,216.2 L325.07,215.79 L323.17,215.31 L321.64,214.78 L320.51,214.2 L319.81,213.58 L319.57,212.96 L319.78,212.33 L320.44,211.72 L321.54,211.14 L323.04,210.6 M322.03,207.17 L324.03,206.66 L326.38,206.23 L329.02,205.87 L331.88,205.62 L334.89,205.46 L337.99,205.41 L341.08,205.46 L344.11,205.61 L346.98,205.87 L349.64,206.22 L352.01,206.66 L354.04,207.17 L355.67,207.74 L356.88,208.36 L357.62,209.01 L357.88,209.68 L357.66,210.34 L356.95,211 L355.78,211.62 L354.17,212.19 L352.17,212.7 L349.82,213.13 L347.18,213.49 L344.32,213.74 L341.31,213.9 L338.21,213.95 L335.12,213.9 L332.09,213.75 L329.22,213.49 L326.56,213.14 L324.19,212.7 L322.16,212.19 L320.53,211.62 L319.32,211 L318.58,210.35 L318.32,209.68 L318.54,209.02 L319.25,208.36 L320.42,207.74 L322.03,207.17 M321.41,203.63 L323.49,203.1 L325.93,202.65 L328.67,202.28 L331.64,202.01 L334.77,201.85 L337.98,201.8 L341.2,201.85 L344.34,202.01 L347.32,202.28 L350.08,202.64 L352.54,203.09 L354.65,203.62 L356.35,204.22 L357.6,204.86 L358.37,205.54 L358.64,206.23 L358.41,206.92 L357.67,207.6 L356.46,208.24 L354.79,208.84 L352.71,209.37 L350.27,209.82 L347.53,210.19 L344.56,210.45 L341.43,210.62 L338.22,210.67 L335,210.62 L331.86,210.46 L328.88,210.19 L326.12,209.83 L323.66,209.37 L321.55,208.85 L319.85,208.25 L318.6,207.61 L317.83,206.93 L317.56,206.24 L317.79,205.54 L318.53,204.87 L319.74,204.22 L321.41,203.63 M321.2,200.06 L323.31,199.53 L325.78,199.07 L328.55,198.7 L331.56,198.43 L334.73,198.26 L337.98,198.21 L341.24,198.26 L344.41,198.43 L347.44,198.69 L350.23,199.06 L352.72,199.52 L354.86,200.06 L356.58,200.66 L357.84,201.31 L358.62,201.99 L358.9,202.7 L358.66,203.4 L357.92,204.08 L356.69,204.74 L355,205.34 L352.89,205.87 L350.42,206.33 L347.65,206.7 L344.64,206.97 L341.47,207.14 L338.22,207.19 L334.96,207.14 L331.79,206.97 L328.76,206.71 L325.97,206.34 L323.48,205.88 L321.34,205.34 L319.62,204.74 L318.36,204.09 L317.58,203.41 L317.3,202.7 L317.54,202 L318.28,201.32 L319.51,200.66 L321.2,200.06 M321.41,196.56 L323.49,196.03 L325.93,195.58 L328.67,195.21 L331.64,194.95 L334.77,194.78 L337.98,194.73 L341.2,194.78 L344.34,194.94 L347.32,195.21 L350.08,195.57 L352.54,196.03 L354.65,196.55 L356.35,197.15 L357.6,197.79 L358.37,198.47 L358.64,199.16 L358.41,199.86 L357.67,200.53 L356.46,201.18 L354.79,201.77 L352.71,202.3 L350.27,202.75 L347.53,203.12 L344.56,203.39 L341.43,203.55 L338.22,203.6 L335,203.55 L331.86,203.39 L328.88,203.12 L326.12,202.76 L323.66,202.31 L321.55,201.78 L319.85,201.18 L318.6,200.54 L317.83,199.86 L317.56,199.17 L317.79,198.48 L318.53,197.8 L319.74,197.16 L321.41,196.56 M322.03,193.21 L324.03,192.7 L326.38,192.27 L329.02,191.91 L331.88,191.66 L334.89,191.5 L337.99,191.45 L341.08,191.5 L344.11,191.65 L346.98,191.91 L349.64,192.26 L352.01,192.7 L354.04,193.21 L355.67,193.78 L356.88,194.4 L357.62,195.05 L357.88,195.72 L357.66,196.38 L356.95,197.04 L355.78,197.66 L354.17,198.23 L352.17,198.74 L349.82,199.17 L347.18,199.53 L344.32,199.78 L341.31,199.94 L338.21,199.99 L335.12,199.94 L332.09,199.79 L329.22,199.53 L326.56,199.18 L324.19,198.74 L322.16,198.23 L320.53,197.66 L319.32,197.04 L318.58,196.39 L318.32,195.72 L318.54,195.06 L319.25,194.4 L320.42,193.78 L322.03,193.21 M323.04,190.1 L324.92,189.62 L327.12,189.21 L329.59,188.88 L332.27,188.64 L335.1,188.49 L337.99,188.44 L340.89,188.49 L343.73,188.64 L346.42,188.88 L348.91,189.2 L351.13,189.61 L353.03,190.09 L354.56,190.62 L355.69,191.2 L356.39,191.82 L356.63,192.44 L356.42,193.07 L355.76,193.68 L354.66,194.26 L353.16,194.8 L351.28,195.27 L349.08,195.68 L346.61,196.01 L343.93,196.25 L341.1,196.4 L338.21,196.45 L335.31,196.4 L332.47,196.25 L329.78,196.01 L327.29,195.69 L325.07,195.28 L323.17,194.8 L321.64,194.27 L320.51,193.69 L319.81,193.08 L319.57,192.45 L319.78,191.82 L320.44,191.21 L321.54,190.63 L323.04,190.1 M324.43,187.29 L326.13,186.86 L328.13,186.48 L330.37,186.19 L332.81,185.97 L335.37,185.83 L338,185.79 L340.64,185.83 L343.21,185.97 L345.65,186.18 L347.91,186.48 L349.93,186.85 L351.66,187.28 L353.05,187.77 L354.07,188.3 L354.71,188.85 L354.93,189.42 L354.74,189.99 L354.13,190.54 L353.14,191.07 L351.77,191.56 L350.07,191.99 L348.07,192.36 L345.83,192.66 L343.39,192.88 L340.83,193.01 L338.2,193.06 L335.56,193.01 L332.99,192.88 L330.55,192.66 L328.29,192.37 L326.27,192 L324.54,191.56 L323.15,191.08 L322.13,190.55 L321.49,190 L321.27,189.43 L321.46,188.86 L322.07,188.3 L323.06,187.78 L324.43,187.29 M326.15,184.86 L327.64,184.48 L329.39,184.16 L331.35,183.9 L333.48,183.71 L335.72,183.59 L338.02,183.55 L340.32,183.59 L342.56,183.71 L344.7,183.9 L346.68,184.16 L348.44,184.48 L349.95,184.86 L351.17,185.28 L352.06,185.74 L352.61,186.23 L352.81,186.72 L352.64,187.22 L352.11,187.71 L351.24,188.17 L350.05,188.59 L348.56,188.97 L346.81,189.3 L344.85,189.56 L342.72,189.75 L340.48,189.87 L338.18,189.9 L335.88,189.87 L333.64,189.75 L331.5,189.56 L329.52,189.3 L327.76,188.98 L326.25,188.6 L325.03,188.17 L324.14,187.71 L323.59,187.23 L323.39,186.73 L323.56,186.23 L324.09,185.75 L324.96,185.29 L326.15,184.86 M328.17,182.88 L329.41,182.56 L330.86,182.29 L332.49,182.07 L334.26,181.92 L336.12,181.82 L338.03,181.79 L339.94,181.82 L341.81,181.91 L343.59,182.07 L345.23,182.29 L346.7,182.56 L347.95,182.87 L348.96,183.22 L349.71,183.61 L350.16,184.01 L350.33,184.42 L350.19,184.84 L349.75,185.24 L349.02,185.62 L348.03,185.98 L346.79,186.29 L345.34,186.56 L343.71,186.78 L341.94,186.94 L340.08,187.03 L338.17,187.07 L336.26,187.03 L334.39,186.94 L332.61,186.78 L330.97,186.56 L329.5,186.3 L328.25,185.98 L327.24,185.63 L326.49,185.24 L326.04,184.84 L325.87,184.43 L326.01,184.02 L326.45,183.61 L327.18,183.23 L328.17,182.88 M330.43,181.38 L331.38,181.13 L332.51,180.92 L333.76,180.76 L335.13,180.63 L336.57,180.56 L338.05,180.53 L339.52,180.56 L340.97,180.63 L342.34,180.76 L343.61,180.92 L344.74,181.13 L345.71,181.37 L346.49,181.65 L347.06,181.94 L347.42,182.25 L347.54,182.57 L347.44,182.89 L347.1,183.2 L346.54,183.5 L345.77,183.77 L344.82,184.01 L343.69,184.22 L342.44,184.39 L341.07,184.51 L339.63,184.59 L338.15,184.61 L336.68,184.59 L335.23,184.51 L333.86,184.39 L332.59,184.23 L331.46,184.02 L330.49,183.77 L329.71,183.5 L329.14,183.21 L328.78,182.9 L328.66,182.58 L328.76,182.26 L329.1,181.95 L329.66,181.65 L330.43,181.38 M332.88,180.4 L333.53,180.24 L334.29,180.1 L335.15,179.98 L336.08,179.9 L337.06,179.85 L338.06,179.83 L339.07,179.85 L340.05,179.9 L340.99,179.98 L341.85,180.09 L342.62,180.23 L343.28,180.4 L343.81,180.59 L344.2,180.79 L344.44,181 L344.53,181.22 L344.45,181.43 L344.22,181.65 L343.84,181.85 L343.32,182.03 L342.67,182.2 L341.91,182.34 L341.05,182.45 L340.12,182.54 L339.14,182.59 L338.14,182.61 L337.13,182.59 L336.15,182.54 L335.21,182.46 L334.35,182.34 L333.58,182.2 L332.92,182.03 L332.39,181.85 L332,181.65 L331.76,181.44 L331.67,181.22 L331.75,181 L331.98,180.79 L332.36,180.59 L332.88,180.4 M335.46,179.98 L335.79,179.89 L336.17,179.82 L336.61,179.76 L337.08,179.72 L337.57,179.7 L338.08,179.69 L338.59,179.7 L339.09,179.72 L339.56,179.76 L340,179.82 L340.39,179.89 L340.72,179.98 L340.99,180.07 L341.19,180.17 L341.31,180.28 L341.35,180.39 L341.32,180.5 L341.2,180.61 L341.01,180.71 L340.74,180.8 L340.41,180.89 L340.03,180.96 L339.59,181.02 L339.12,181.06 L338.63,181.08 L338.12,181.09 L337.61,181.08 L337.11,181.06 L336.64,181.02 L336.2,180.96 L335.81,180.89 L335.48,180.8 L335.21,180.71 L335.01,180.61 L334.89,180.5 L334.85,180.39 L334.88,180.28 L335,180.17 L335.19,180.07 L335.46,179.98 M338.1,225.29 L335.46,224.6 L332.88,223.37 L330.43,221.63 L328.17,219.42 L326.15,216.81 L324.43,213.84 L323.04,210.6 L322.03,207.17 L321.41,203.63 L321.2,200.06 L321.41,196.56 L322.03,193.21 L323.04,190.1 L324.43,187.29 L326.15,184.86 L328.17,182.88 L330.43,181.38 L332.88,180.4 L335.46,179.98 L338.1,180.11 M338.1,225.29 L336.17,224.44 L334.29,223.06 L332.51,221.18 L330.86,218.84 L329.39,216.1 L328.13,213.04 L327.12,209.72 L326.38,206.23 L325.93,202.65 L325.78,199.07 L325.93,195.58 L326.38,192.27 L327.12,189.21 L328.13,186.48 L329.39,184.16 L330.86,182.29 L332.51,180.92 L334.29,180.1 L336.17,179.82 L338.1,180.11 M338.1,225.29 L337.08,224.34 L336.08,222.86 L335.13,220.89 L334.26,218.46 L333.48,215.65 L332.81,212.52 L332.27,209.15 L331.88,205.62 L331.64,202.01 L331.56,198.43 L331.64,194.95 L331.88,191.66 L332.27,188.64 L332.81,185.97 L333.48,183.71 L334.26,181.92 L335.13,180.63 L336.08,179.9 L337.08,179.72 L338.1,180.11 M338.1,225.29 L338.08,224.31 L338.06,222.79 L338.05,220.79 L338.03,218.33 L338.02,215.5 L338,212.34 L337.99,208.95 L337.99,205.41 L337.98,201.8 L337.98,198.21 L337.98,194.73 L337.99,191.45 L337.99,188.44 L338,185.79 L338.02,183.55 L338.03,181.79 L338.05,180.53 L338.06,179.83 L338.08,179.69 L338.1,180.11 M338.1,225.29 L339.09,224.34 L340.05,222.86 L340.97,220.89 L341.81,218.46 L342.56,215.65 L343.21,212.52 L343.73,209.15 L344.11,205.61 L344.34,202.01 L344.41,198.43 L344.34,194.94 L344.11,191.65 L343.73,188.64 L343.21,185.97 L342.56,183.71 L341.81,181.91 L340.97,180.63 L340.05,179.9 L339.09,179.72 L338.1,180.11 M338.1,225.29 L340,224.44 L341.85,223.06 L343.61,221.17 L345.23,218.84 L346.68,216.1 L347.91,213.03 L348.91,209.71 L349.64,206.22 L350.08,202.64 L350.23,199.06 L350.08,195.57 L349.64,192.26 L348.91,189.2 L347.91,186.48 L346.68,184.16 L345.23,182.29 L343.61,180.92 L341.85,180.09 L340,179.82 L338.1,180.11 M338.1,225.29 L340.72,224.6 L343.28,223.37 L345.71,221.63 L347.95,219.42 L349.95,216.8 L351.66,213.84 L353.03,210.6 L354.04,207.17 L354.65,203.62 L354.86,200.06 L354.65,196.55 L354.04,193.21 L353.03,190.09 L351.66,187.28 L349.95,184.86 L347.95,182.87 L345.71,181.37 L343.28,180.4 L340.72,179.98 L338.1,180.11 M338.1,225.29 L341.19,224.79 L344.2,223.75 L347.06,222.19 L349.71,220.16 L352.06,217.69 L354.07,214.85 L355.69,211.71 L356.88,208.36 L357.6,204.86 L357.84,201.31 L357.6,197.79 L356.88,194.4 L355.69,191.2 L354.07,188.3 L352.06,185.74 L349.71,183.61 L347.06,181.94 L344.2,180.79 L341.19,180.17 L338.1,180.11 M338.1,225.29 L341.35,225.01 L344.53,224.18 L347.54,222.82 L350.33,220.97 L352.81,218.67 L354.93,215.97 L356.63,212.95 L357.88,209.68 L358.64,206.23 L358.9,202.7 L358.64,199.16 L357.88,195.72 L356.63,192.44 L354.93,189.42 L352.81,186.72 L350.33,184.42 L347.54,182.57 L344.53,181.22 L341.35,180.39 L338.1,180.11 M338.1,225.29 L341.2,225.23 L344.22,224.61 L347.1,223.45 L349.75,221.79 L352.11,219.65 L354.13,217.1 L355.76,214.19 L356.95,211 L357.67,207.6 L357.92,204.08 L357.67,200.53 L356.95,197.04 L355.76,193.68 L354.13,190.54 L352.11,187.71 L349.75,185.24 L347.1,183.2 L344.22,181.65 L341.2,180.61 L338.1,180.11 M338.1,225.29 L340.74,225.42 L343.32,225 L345.77,224.02 L348.03,222.52 L350.05,220.54 L351.77,218.11 L353.16,215.3 L354.17,212.19 L354.79,208.84 L355,205.34 L354.79,201.77 L354.17,198.23 L353.16,194.8 L351.77,191.56 L350.05,188.59 L348.03,185.98 L345.77,183.77 L343.32,182.03 L340.74,180.8 L338.1,180.11 M338.1,225.29 L340.03,225.58 L341.91,225.3 L343.69,224.48 L345.34,223.11 L346.81,221.24 L348.07,218.92 L349.08,216.19 L349.82,213.13 L350.27,209.82 L350.42,206.33 L350.27,202.75 L349.82,199.17 L349.08,195.68 L348.07,192.36 L346.81,189.3 L345.34,186.56 L343.69,184.22 L341.91,182.34 L340.03,180.96 L338.1,180.11 M338.1,225.29 L339.12,225.68 L340.12,225.5 L341.07,224.77 L341.94,223.48 L342.72,221.69 L343.39,219.43 L343.93,216.76 L344.32,213.74 L344.56,210.45 L344.64,206.97 L344.56,203.39 L344.32,199.78 L343.93,196.25 L343.39,192.88 L342.72,189.75 L341.94,186.94 L341.07,184.51 L340.12,182.54 L339.12,181.06 L338.1,180.11 M338.1,225.29 L338.12,225.71 L338.14,225.57 L338.15,224.87 L338.17,223.61 L338.18,221.85 L338.2,219.61 L338.21,216.96 L338.21,213.95 L338.22,210.67 L338.22,207.19 L338.22,203.6 L338.21,199.99 L338.21,196.45 L338.2,193.06 L338.18,189.9 L338.17,187.07 L338.15,184.61 L338.14,182.61 L338.12,181.09 L338.1,180.11 M338.1,225.29 L337.11,225.68 L336.15,225.5 L335.23,224.77 L334.39,223.49 L333.64,221.69 L332.99,219.43 L332.47,216.76 L332.09,213.75 L331.86,210.46 L331.79,206.97 L331.86,203.39 L332.09,199.79 L332.47,196.25 L332.99,192.88 L333.64,189.75 L334.39,186.94 L335.23,184.51 L336.15,182.54 L337.11,181.06 L338.1,180.11 M338.1,225.29 L336.2,225.58 L334.35,225.31 L332.59,224.48 L330.97,223.11 L329.52,221.24 L328.29,218.92 L327.29,216.2 L326.56,213.14 L326.12,209.83 L325.97,206.34 L326.12,202.76 L326.56,199.18 L327.29,195.69 L328.29,192.37 L329.52,189.3 L330.97,186.56 L332.59,184.23 L334.35,182.34 L336.2,180.96 L338.1,180.11 M338.1,225.29 L335.48,225.42 L332.92,225 L330.49,224.03 L328.25,222.53 L326.25,220.54 L324.54,218.12 L323.17,215.31 L322.16,212.19 L321.55,208.85 L321.34,205.34 L321.55,201.78 L322.16,198.23 L323.17,194.8 L324.54,191.56 L326.25,188.6 L328.25,185.98 L330.49,183.77 L332.92,182.03 L335.48,180.8 L338.1,180.11 M338.1,225.29 L335.01,225.23 L332,224.61 L329.14,223.46 L326.49,221.79 L324.14,219.66 L322.13,217.1 L320.51,214.2 L319.32,211 L318.6,207.61 L318.36,204.09 L318.6,200.54 L319.32,197.04 L320.51,193.69 L322.13,190.55 L324.14,187.71 L326.49,185.24 L329.14,183.21 L332,181.65 L335.01,180.61 L338.1,180.11 M338.1,225.29 L334.85,225.01 L331.67,224.18 L328.66,222.83 L325.87,220.98 L323.39,218.68 L321.27,215.98 L319.57,212.96 L318.32,209.68 L317.56,206.24 L317.3,202.7 L317.56,199.17 L318.32,195.72 L319.57,192.45 L321.27,189.43 L323.39,186.73 L325.87,184.43 L328.66,182.58 L331.67,181.22 L334.85,180.39 L338.1,180.11 M338.1,225.29 L335,224.79 L331.98,223.75 L329.1,222.2 L326.45,220.16 L324.09,217.69 L322.07,214.86 L320.44,211.72 L319.25,208.36 L318.53,204.87 L318.28,201.32 L318.53,197.8 L319.25,194.4 L320.44,191.21 L322.07,188.3 L324.09,185.75 L326.45,183.61 L329.1,181.95 L331.98,180.79 L335,180.17 L338.1,180.11" stroke="#000" stroke-width="0.35" fill="none" opacity="0.55"/>
<ellipse cx="338.1" cy="202.7" rx="20.8" ry="22.9" fill="none" stroke="#000" stroke-width="0.5" opacity="0.45"/>
<ellipse cx="396.1" cy="209.8" rx="14.4" ry="15.2" fill="url(#g10)" opacity="0.6"/>
<path d="M394.27,224.3 L394.5,224.25 L394.77,224.2 L395.07,224.16 L395.39,224.13 L395.73,224.11 L396.09,224.1 L396.44,224.11 L396.78,224.13 L397.11,224.16 L397.41,224.2 L397.68,224.25 L397.91,224.3 L398.1,224.37 L398.24,224.44 L398.32,224.51 L398.35,224.59 L398.33,224.67 L398.25,224.74 L398.11,224.81 L397.93,224.88 L397.7,224.93 L397.43,224.98 L397.13,225.02 L396.81,225.05 L396.47,225.07 L396.11,225.08 L395.76,225.07 L395.42,225.05 L395.09,225.02 L394.79,224.98 L394.52,224.93 L394.29,224.88 L394.1,224.81 L393.96,224.74 L393.88,224.67 L393.85,224.59 L393.87,224.51 L393.95,224.44 L394.09,224.37 L394.27,224.3 M392.49,223.48 L392.94,223.36 L393.46,223.26 L394.06,223.19 L394.7,223.13 L395.38,223.09 L396.07,223.08 L396.77,223.09 L397.45,223.13 L398.1,223.18 L398.69,223.26 L399.23,223.36 L399.68,223.48 L400.05,223.6 L400.32,223.74 L400.49,223.89 L400.55,224.04 L400.5,224.19 L400.34,224.34 L400.08,224.48 L399.71,224.61 L399.26,224.72 L398.74,224.82 L398.14,224.9 L397.5,224.96 L396.82,224.99 L396.13,225 L395.43,224.99 L394.75,224.96 L394.1,224.9 L393.51,224.82 L392.97,224.72 L392.52,224.61 L392.15,224.48 L391.88,224.34 L391.71,224.19 L391.65,224.04 L391.7,223.89 L391.86,223.75 L392.12,223.61 L392.49,223.48 M390.79,222.31 L391.45,222.14 L392.23,222 L393.1,221.88 L394.04,221.8 L395.04,221.75 L396.06,221.73 L397.09,221.75 L398.08,221.8 L399.03,221.88 L399.91,222 L400.7,222.14 L401.37,222.31 L401.91,222.5 L402.31,222.7 L402.55,222.92 L402.64,223.14 L402.56,223.36 L402.33,223.58 L401.94,223.78 L401.41,223.97 L400.75,224.14 L399.97,224.28 L399.1,224.4 L398.16,224.49 L397.16,224.54 L396.14,224.55 L395.11,224.54 L394.12,224.49 L393.17,224.4 L392.29,224.29 L391.5,224.14 L390.83,223.97 L390.29,223.78 L389.89,223.58 L389.65,223.36 L389.56,223.14 L389.64,222.92 L389.87,222.71 L390.26,222.5 L390.79,222.31 M389.22,220.84 L390.08,220.62 L391.09,220.44 L392.21,220.29 L393.44,220.18 L394.73,220.11 L396.05,220.09 L397.38,220.11 L398.67,220.18 L399.9,220.28 L401.04,220.43 L402.05,220.62 L402.92,220.84 L403.62,221.08 L404.13,221.35 L404.45,221.63 L404.56,221.91 L404.47,222.2 L404.16,222.48 L403.66,222.74 L402.98,222.99 L402.12,223.21 L401.11,223.39 L399.99,223.54 L398.76,223.65 L397.47,223.72 L396.15,223.74 L394.82,223.72 L393.53,223.65 L392.3,223.54 L391.16,223.39 L390.15,223.21 L389.28,222.99 L388.58,222.75 L388.07,222.48 L387.75,222.2 L387.64,221.92 L387.73,221.63 L388.04,221.35 L388.54,221.09 L389.22,220.84 M387.83,219.1 L388.86,218.83 L390.07,218.61 L391.43,218.43 L392.9,218.3 L394.45,218.22 L396.04,218.19 L397.64,218.22 L399.19,218.3 L400.67,218.43 L402.04,218.61 L403.26,218.83 L404.3,219.09 L405.15,219.39 L405.77,219.71 L406.15,220.04 L406.28,220.39 L406.17,220.73 L405.8,221.07 L405.2,221.39 L404.37,221.68 L403.34,221.94 L402.13,222.17 L400.77,222.35 L399.3,222.48 L397.75,222.56 L396.16,222.59 L394.56,222.56 L393.01,222.48 L391.53,222.35 L390.16,222.17 L388.94,221.95 L387.9,221.68 L387.05,221.39 L386.43,221.07 L386.05,220.73 L385.92,220.39 L386.03,220.05 L386.4,219.71 L387,219.39 L387.83,219.1 M386.64,217.12 L387.82,216.82 L389.2,216.57 L390.75,216.36 L392.44,216.21 L394.21,216.12 L396.03,216.09 L397.86,216.12 L399.64,216.21 L401.33,216.36 L402.89,216.56 L404.29,216.82 L405.49,217.12 L406.45,217.46 L407.16,217.82 L407.6,218.21 L407.75,218.6 L407.62,218.99 L407.2,219.38 L406.51,219.74 L405.56,220.08 L404.38,220.38 L403,220.64 L401.45,220.84 L399.76,220.99 L397.99,221.09 L396.17,221.12 L394.34,221.09 L392.56,221 L390.87,220.85 L389.31,220.64 L387.91,220.38 L386.71,220.08 L385.75,219.75 L385.04,219.38 L384.6,219 L384.45,218.6 L384.58,218.21 L385,217.83 L385.69,217.46 L386.64,217.12 M385.68,214.97 L386.98,214.64 L388.5,214.36 L390.21,214.13 L392.07,213.96 L394.02,213.86 L396.03,213.83 L398.03,213.86 L399.99,213.96 L401.86,214.13 L403.58,214.35 L405.12,214.64 L406.44,214.97 L407.5,215.34 L408.28,215.74 L408.76,216.16 L408.93,216.6 L408.78,217.03 L408.33,217.45 L407.57,217.85 L406.52,218.23 L405.22,218.56 L403.7,218.84 L401.99,219.07 L400.13,219.23 L398.18,219.34 L396.17,219.37 L394.17,219.34 L392.21,219.23 L390.34,219.07 L388.62,218.84 L387.08,218.56 L385.76,218.23 L384.7,217.86 L383.92,217.46 L383.44,217.03 L383.27,216.6 L383.42,216.17 L383.87,215.74 L384.63,215.34 L385.68,214.97 M384.97,212.69 L386.36,212.34 L387.99,212.04 L389.81,211.79 L391.79,211.61 L393.88,211.51 L396.02,211.47 L398.16,211.51 L400.26,211.61 L402.25,211.79 L404.09,212.03 L405.73,212.33 L407.13,212.69 L408.27,213.08 L409.1,213.51 L409.61,213.96 L409.79,214.42 L409.64,214.89 L409.15,215.34 L408.34,215.77 L407.23,216.16 L405.84,216.52 L404.21,216.82 L402.39,217.06 L400.41,217.24 L398.32,217.35 L396.18,217.39 L394.04,217.35 L391.94,217.24 L389.95,217.06 L388.11,216.82 L386.47,216.52 L385.07,216.17 L383.93,215.77 L383.1,215.34 L382.59,214.89 L382.41,214.43 L382.56,213.97 L383.05,213.52 L383.86,213.09 L384.97,212.69 M384.55,210.34 L385.99,209.97 L387.67,209.66 L389.57,209.41 L391.63,209.22 L393.79,209.11 L396.02,209.07 L398.24,209.11 L400.42,209.22 L402.48,209.4 L404.39,209.66 L406.1,209.97 L407.56,210.33 L408.74,210.75 L409.6,211.19 L410.13,211.66 L410.32,212.14 L410.16,212.62 L409.65,213.09 L408.81,213.53 L407.65,213.95 L406.21,214.31 L404.53,214.63 L402.63,214.88 L400.57,215.06 L398.41,215.18 L396.18,215.21 L393.96,215.18 L391.78,215.07 L389.72,214.88 L387.81,214.63 L386.1,214.32 L384.64,213.95 L383.46,213.54 L382.6,213.09 L382.07,212.63 L381.88,212.15 L382.04,211.66 L382.55,211.2 L383.39,210.75 L384.55,210.34 M384.4,207.97 L385.86,207.6 L387.57,207.29 L389.49,207.03 L391.57,206.84 L393.77,206.73 L396.02,206.69 L398.27,206.73 L400.47,206.84 L402.56,207.03 L404.5,207.28 L406.22,207.6 L407.7,207.97 L408.89,208.39 L409.77,208.84 L410.31,209.31 L410.5,209.8 L410.34,210.28 L409.82,210.76 L408.97,211.21 L407.8,211.63 L406.34,212 L404.63,212.31 L402.71,212.57 L400.63,212.76 L398.43,212.87 L396.18,212.91 L393.93,212.87 L391.73,212.76 L389.64,212.57 L387.7,212.32 L385.98,212 L384.5,211.63 L383.31,211.21 L382.43,210.76 L381.89,210.29 L381.7,209.8 L381.86,209.32 L382.38,208.84 L383.23,208.39 L384.4,207.97 M384.55,205.65 L385.99,205.29 L387.67,204.97 L389.57,204.72 L391.63,204.54 L393.79,204.42 L396.02,204.39 L398.24,204.42 L400.42,204.53 L402.48,204.72 L404.39,204.97 L406.1,205.28 L407.56,205.65 L408.74,206.06 L409.6,206.51 L410.13,206.97 L410.32,207.45 L410.16,207.94 L409.65,208.4 L408.81,208.85 L407.65,209.26 L406.21,209.63 L404.53,209.94 L402.63,210.19 L400.57,210.38 L398.41,210.49 L396.18,210.53 L393.96,210.49 L391.78,210.38 L389.72,210.2 L387.81,209.94 L386.1,209.63 L384.64,209.27 L383.46,208.85 L382.6,208.41 L382.07,207.94 L381.88,207.46 L382.04,206.98 L382.55,206.51 L383.39,206.07 L384.55,205.65 M384.97,203.44 L386.36,203.08 L387.99,202.78 L389.81,202.54 L391.79,202.36 L393.88,202.25 L396.02,202.21 L398.16,202.25 L400.26,202.36 L402.25,202.54 L404.09,202.78 L405.73,203.08 L407.13,203.43 L408.27,203.83 L409.1,204.26 L409.61,204.71 L409.79,205.17 L409.64,205.63 L409.15,206.08 L408.34,206.51 L407.23,206.91 L405.84,207.26 L404.21,207.56 L402.39,207.81 L400.41,207.99 L398.32,208.09 L396.18,208.13 L394.04,208.09 L391.94,207.99 L389.95,207.81 L388.11,207.57 L386.47,207.27 L385.07,206.91 L383.93,206.52 L383.1,206.09 L382.59,205.64 L382.41,205.18 L382.56,204.71 L383.05,204.26 L383.86,203.83 L384.97,203.44 M385.68,201.37 L386.98,201.04 L388.5,200.76 L390.21,200.53 L392.07,200.37 L394.02,200.26 L396.03,200.23 L398.03,200.26 L399.99,200.37 L401.86,200.53 L403.58,200.76 L405.12,201.04 L406.44,201.37 L407.5,201.74 L408.28,202.14 L408.76,202.57 L408.93,203 L408.78,203.43 L408.33,203.86 L407.57,204.26 L406.52,204.63 L405.22,204.96 L403.7,205.24 L401.99,205.47 L400.13,205.64 L398.18,205.74 L396.17,205.77 L394.17,205.74 L392.21,205.64 L390.34,205.47 L388.62,205.25 L387.08,204.96 L385.76,204.63 L384.7,204.26 L383.92,203.86 L383.44,203.44 L383.27,203 L383.42,202.57 L383.87,202.15 L384.63,201.75 L385.68,201.37 M386.64,199.52 L387.82,199.22 L389.2,198.96 L390.75,198.76 L392.44,198.61 L394.21,198.51 L396.03,198.48 L397.86,198.51 L399.64,198.6 L401.33,198.75 L402.89,198.96 L404.29,199.22 L405.49,199.52 L406.45,199.85 L407.16,200.22 L407.6,200.6 L407.75,201 L407.62,201.39 L407.2,201.77 L406.51,202.14 L405.56,202.48 L404.38,202.78 L403,203.03 L401.45,203.24 L399.76,203.39 L397.99,203.48 L396.17,203.51 L394.34,203.48 L392.56,203.39 L390.87,203.24 L389.31,203.04 L387.91,202.78 L386.71,202.48 L385.75,202.14 L385.04,201.78 L384.6,201.39 L384.45,201 L384.58,200.61 L385,200.22 L385.69,199.86 L386.64,199.52 M387.83,197.92 L388.86,197.66 L390.07,197.43 L391.43,197.25 L392.9,197.12 L394.45,197.04 L396.04,197.01 L397.64,197.04 L399.19,197.12 L400.67,197.25 L402.04,197.43 L403.26,197.65 L404.3,197.92 L405.15,198.21 L405.77,198.53 L406.15,198.87 L406.28,199.21 L406.17,199.55 L405.8,199.89 L405.2,200.21 L404.37,200.5 L403.34,200.77 L402.13,200.99 L400.77,201.17 L399.3,201.3 L397.75,201.38 L396.16,201.41 L394.56,201.38 L393.01,201.3 L391.53,201.17 L390.16,200.99 L388.94,200.77 L387.9,200.51 L387.05,200.21 L386.43,199.89 L386.05,199.56 L385.92,199.21 L386.03,198.87 L386.4,198.53 L387,198.21 L387.83,197.92 M389.22,196.61 L390.08,196.39 L391.09,196.21 L392.21,196.06 L393.44,195.95 L394.73,195.88 L396.05,195.86 L397.38,195.88 L398.67,195.95 L399.9,196.06 L401.04,196.21 L402.05,196.39 L402.92,196.61 L403.62,196.85 L404.13,197.12 L404.45,197.4 L404.56,197.68 L404.47,197.97 L404.16,198.25 L403.66,198.51 L402.98,198.76 L402.12,198.98 L401.11,199.16 L399.99,199.31 L398.76,199.42 L397.47,199.49 L396.15,199.51 L394.82,199.49 L393.53,199.42 L392.3,199.32 L391.16,199.17 L390.15,198.98 L389.28,198.76 L388.58,198.52 L388.07,198.25 L387.75,197.97 L387.64,197.69 L387.73,197.4 L388.04,197.12 L388.54,196.86 L389.22,196.61 M390.79,195.63 L391.45,195.46 L392.23,195.32 L393.1,195.2 L394.04,195.11 L395.04,195.06 L396.06,195.05 L397.09,195.06 L398.08,195.11 L399.03,195.2 L399.91,195.31 L400.7,195.46 L401.37,195.63 L401.91,195.82 L402.31,196.02 L402.55,196.24 L402.64,196.46 L402.56,196.68 L402.33,196.89 L401.94,197.1 L401.41,197.29 L400.75,197.46 L399.97,197.6 L399.1,197.72 L398.16,197.8 L397.16,197.85 L396.14,197.87 L395.11,197.85 L394.12,197.8 L393.17,197.72 L392.29,197.6 L391.5,197.46 L390.83,197.29 L390.29,197.1 L389.89,196.9 L389.65,196.68 L389.56,196.46 L389.64,196.24 L389.87,196.02 L390.26,195.82 L390.79,195.63 M392.49,194.99 L392.94,194.88 L393.46,194.78 L394.06,194.7 L394.7,194.64 L395.38,194.61 L396.07,194.6 L396.77,194.61 L397.45,194.64 L398.1,194.7 L398.69,194.78 L399.23,194.88 L399.68,194.99 L400.05,195.12 L400.32,195.26 L400.49,195.41 L400.55,195.56 L400.5,195.71 L400.34,195.85 L400.08,195.99 L399.71,196.12 L399.26,196.24 L398.74,196.34 L398.14,196.41 L397.5,196.47 L396.82,196.51 L396.13,196.52 L395.43,196.51 L394.75,196.47 L394.1,196.42 L393.51,196.34 L392.97,196.24 L392.52,196.12 L392.15,196 L391.88,195.86 L391.71,195.71 L391.65,195.56 L391.7,195.41 L391.86,195.26 L392.12,195.12 L392.49,194.99 M394.27,194.72 L394.5,194.67 L394.77,194.62 L395.07,194.58 L395.39,194.55 L395.73,194.53 L396.09,194.52 L396.44,194.53 L396.78,194.55 L397.11,194.58 L397.41,194.62 L397.68,194.67 L397.91,194.72 L398.1,194.79 L398.24,194.86 L398.32,194.93 L398.35,195.01 L398.33,195.09 L398.25,195.16 L398.11,195.23 L397.93,195.3 L397.7,195.35 L397.43,195.4 L397.13,195.44 L396.81,195.47 L396.47,195.49 L396.11,195.5 L395.76,195.49 L395.42,195.47 L395.09,195.44 L394.79,195.4 L394.52,195.35 L394.29,195.3 L394.1,195.23 L393.96,195.16 L393.88,195.09 L393.85,195.01 L393.87,194.93 L393.95,194.86 L394.09,194.79 L394.27,194.72 M396.1,224.77 L394.27,224.3 L392.49,223.48 L390.79,222.31 L389.22,220.84 L387.83,219.1 L386.64,217.12 L385.68,214.97 L384.97,212.69 L384.55,210.34 L384.4,207.97 L384.55,205.65 L384.97,203.44 L385.68,201.37 L386.64,199.52 L387.83,197.92 L389.22,196.61 L390.79,195.63 L392.49,194.99 L394.27,194.72 L396.1,194.83 M396.1,224.77 L394.77,224.2 L393.46,223.26 L392.23,222 L391.09,220.44 L390.07,218.61 L389.2,216.57 L388.5,214.36 L387.99,212.04 L387.67,209.66 L387.57,207.29 L387.67,204.97 L387.99,202.78 L388.5,200.76 L389.2,198.96 L390.07,197.43 L391.09,196.21 L392.23,195.32 L393.46,194.78 L394.77,194.62 L396.1,194.83 M396.1,224.77 L395.39,224.13 L394.7,223.13 L394.04,221.8 L393.44,220.18 L392.9,218.3 L392.44,216.21 L392.07,213.96 L391.79,211.61 L391.63,209.22 L391.57,206.84 L391.63,204.54 L391.79,202.36 L392.07,200.37 L392.44,198.61 L392.9,197.12 L393.44,195.95 L394.04,195.11 L394.7,194.64 L395.39,194.55 L396.1,194.83 M396.1,224.77 L396.09,224.1 L396.07,223.08 L396.06,221.73 L396.05,220.09 L396.04,218.19 L396.03,216.09 L396.03,213.83 L396.02,211.47 L396.02,209.07 L396.02,206.69 L396.02,204.39 L396.02,202.21 L396.03,200.23 L396.03,198.48 L396.04,197.01 L396.05,195.86 L396.06,195.05 L396.07,194.6 L396.09,194.52 L396.1,194.83 M396.1,224.77 L396.78,224.13 L397.45,223.13 L398.08,221.8 L398.67,220.18 L399.19,218.3 L399.64,216.21 L399.99,213.96 L400.26,211.61 L400.42,209.22 L400.47,206.84 L400.42,204.53 L400.26,202.36 L399.99,200.37 L399.64,198.6 L399.19,197.12 L398.67,195.95 L398.08,195.11 L397.45,194.64 L396.78,194.55 L396.1,194.83 M396.1,224.77 L397.41,224.2 L398.69,223.26 L399.91,222 L401.04,220.43 L402.04,218.61 L402.89,216.56 L403.58,214.35 L404.09,212.03 L404.39,209.66 L404.5,207.28 L404.39,204.97 L404.09,202.78 L403.58,200.76 L402.89,198.96 L402.04,197.43 L401.04,196.21 L399.91,195.31 L398.69,194.78 L397.41,194.62 L396.1,194.83 M396.1,224.77 L397.91,224.3 L399.68,223.48 L401.37,222.31 L402.92,220.84 L404.3,219.09 L405.49,217.12 L406.44,214.97 L407.13,212.69 L407.56,210.33 L407.7,207.97 L407.56,205.65 L407.13,203.43 L406.44,201.37 L405.49,199.52 L404.3,197.92 L402.92,196.61 L401.37,195.63 L399.68,194.99 L397.91,194.72 L396.1,194.83 M396.1,224.77 L398.24,224.44 L400.32,223.74 L402.31,222.7 L404.13,221.35 L405.77,219.71 L407.16,217.82 L408.28,215.74 L409.1,213.51 L409.6,211.19 L409.77,208.84 L409.6,206.51 L409.1,204.26 L408.28,202.14 L407.16,200.22 L405.77,198.53 L404.13,197.12 L402.31,196.02 L400.32,195.26 L398.24,194.86 L396.1,194.83 M396.1,224.77 L398.35,224.59 L400.55,224.04 L402.64,223.14 L404.56,221.91 L406.28,220.39 L407.75,218.6 L408.93,216.6 L409.79,214.42 L410.32,212.14 L410.5,209.8 L410.32,207.45 L409.79,205.17 L408.93,203 L407.75,201 L406.28,199.21 L404.56,197.68 L402.64,196.46 L400.55,195.56 L398.35,195.01 L396.1,194.83 M396.1,224.77 L398.25,224.74 L400.34,224.34 L402.33,223.58 L404.16,222.48 L405.8,221.07 L407.2,219.38 L408.33,217.45 L409.15,215.34 L409.65,213.09 L409.82,210.76 L409.65,208.4 L409.15,206.08 L408.33,203.86 L407.2,201.77 L405.8,199.89 L404.16,198.25 L402.33,196.89 L400.34,195.85 L398.25,195.16 L396.1,194.83 M396.1,224.77 L397.93,224.88 L399.71,224.61 L401.41,223.97 L402.98,222.99 L404.37,221.68 L405.56,220.08 L406.52,218.23 L407.23,216.16 L407.65,213.95 L407.8,211.63 L407.65,209.26 L407.23,206.91 L406.52,204.63 L405.56,202.48 L404.37,200.5 L402.98,198.76 L401.41,197.29 L399.71,196.12 L397.93,195.3 L396.1,194.83 M396.1,224.77 L397.43,224.98 L398.74,224.82 L399.97,224.28 L401.11,223.39 L402.13,222.17 L403,220.64 L403.7,218.84 L404.21,216.82 L404.53,214.63 L404.63,212.31 L404.53,209.94 L404.21,207.56 L403.7,205.24 L403,203.03 L402.13,200.99 L401.11,199.16 L399.97,197.6 L398.74,196.34 L397.43,195.4 L396.1,194.83 M396.1,224.77 L396.81,225.05 L397.5,224.96 L398.16,224.49 L398.76,223.65 L399.3,222.48 L399.76,220.99 L400.13,219.23 L400.41,217.24 L400.57,215.06 L400.63,212.76 L400.57,210.38 L400.41,207.99 L400.13,205.64 L399.76,203.39 L399.3,201.3 L398.76,199.42 L398.16,197.8 L397.5,196.47 L396.81,195.47 L396.1,194.83 M396.1,224.77 L396.11,225.08 L396.13,225 L396.14,224.55 L396.15,223.74 L396.16,222.59 L396.17,221.12 L396.17,219.37 L396.18,217.39 L396.18,215.21 L396.18,212.91 L396.18,210.53 L396.18,208.13 L396.17,205.77 L396.17,203.51 L396.16,201.41 L396.15,199.51 L396.14,197.87 L396.13,196.52 L396.11,195.5 L396.1,194.83 M396.1,224.77 L395.42,225.05 L394.75,224.96 L394.12,224.49 L393.53,223.65 L393.01,222.48 L392.56,221 L392.21,219.23 L391.94,217.24 L391.78,215.07 L391.73,212.76 L391.78,210.38 L391.94,207.99 L392.21,205.64 L392.56,203.39 L393.01,201.3 L393.53,199.42 L394.12,197.8 L394.75,196.47 L395.42,195.47 L396.1,194.83 M396.1,224.77 L394.79,224.98 L393.51,224.82 L392.29,224.29 L391.16,223.39 L390.16,222.17 L389.31,220.64 L388.62,218.84 L388.11,216.82 L387.81,214.63 L387.7,212.32 L387.81,209.94 L388.11,207.57 L388.62,205.25 L389.31,203.04 L390.16,200.99 L391.16,199.17 L392.29,197.6 L393.51,196.34 L394.79,195.4 L396.1,194.83 M396.1,224.77 L394.29,224.88 L392.52,224.61 L390.83,223.97 L389.28,222.99 L387.9,221.68 L386.71,220.08 L385.76,218.23 L385.07,216.17 L384.64,213.95 L384.5,211.63 L384.64,209.27 L385.07,206.91 L385.76,204.63 L386.71,202.48 L387.9,200.51 L389.28,198.76 L390.83,197.29 L392.52,196.12 L394.29,195.3 L396.1,194.83 M396.1,224.77 L393.96,224.74 L391.88,224.34 L389.89,223.58 L388.07,222.48 L386.43,221.07 L385.04,219.38 L383.92,217.46 L383.1,215.34 L382.6,213.09 L382.43,210.76 L382.6,208.41 L383.1,206.09 L383.92,203.86 L385.04,201.78 L386.43,199.89 L388.07,198.25 L389.89,196.9 L391.88,195.86 L393.96,195.16 L396.1,194.83 M396.1,224.77 L393.85,224.59 L391.65,224.04 L389.56,223.14 L387.64,221.92 L385.92,220.39 L384.45,218.6 L383.27,216.6 L382.41,214.43 L381.88,212.15 L381.7,209.8 L381.88,207.46 L382.41,205.18 L383.27,203 L384.45,201 L385.92,199.21 L387.64,197.69 L389.56,196.46 L391.65,195.56 L393.85,195.01 L396.1,194.83 M396.1,224.77 L393.95,224.44 L391.86,223.75 L389.87,222.71 L388.04,221.35 L386.4,219.71 L385,217.83 L383.87,215.74 L383.05,213.52 L382.55,211.2 L382.38,208.84 L382.55,206.51 L383.05,204.26 L383.87,202.15 L385,200.22 L386.4,198.53 L388.04,197.12 L389.87,196.02 L391.86,195.26 L393.95,194.86 L396.1,194.83" stroke="#000" stroke-width="0.35" fill="none" opacity="0.5"/>
<ellipse cx="396.1" cy="209.8" rx="14.4" ry="15.2" fill="none" stroke="#000" stroke-width="0.5" opacity="0.45"/>
<path d="M160.4,94.5 L163,99.1 L157.8,99.1 Z" fill="#f81414"/>
<g clip-path="url(#cpA)"><polyline fill="none" stroke="#ff00ff" stroke-width="1.6" stroke-linejoin="miter" points="160.4,97.5 190.4,185.8 213.7,189.3 217,209.3 220.6,213 300.8,225.6 391.5,307.6"/><path fill="none" stroke="#00ffff" stroke-width="1.15" d="M160.5,97.5 C163.02,104.58 172.47,131.25 175.6,140 C178.73,148.75 177.57,146.33 179.3,150 C181.03,153.67 183.52,157.83 186,162 C188.48,166.17 191.33,170.52 194.2,175 C197.07,179.48 200.42,185.03 203.2,188.9 C205.98,192.77 208.58,195.88 210.9,198.2 C213.22,200.52 215.25,201.68 217.1,202.8 C218.95,203.92 219.52,203.7 222,204.9 C224.48,206.1 228.37,208.05 232,210 C235.63,211.95 240.02,215.2 243.8,216.6 C247.58,218 251.07,217.8 254.7,218.4 C258.33,219 262.38,219.47 265.6,220.2 C268.82,220.93 271.27,221.9 274,222.8 C276.73,223.7 279.3,224.55 282,225.6 C284.7,226.65 285.5,226.67 290.2,229.1 C294.9,231.53 303.52,235.83 310.2,240.2 C316.88,244.57 323.33,249.75 330.3,255.3 C337.27,260.85 341.8,264.78 352,273.5 C362.2,282.22 384.92,301.92 391.5,307.6"/></g>
<g clip-path="url(#cpE)"><path fill="none" stroke="#00ffff" stroke-width="1.15" d="M160.5,97.5 C163.02,104.58 172.47,131.25 175.6,140 C178.73,148.75 177.57,146.33 179.3,150 C181.03,153.67 183.52,157.83 186,162 C188.48,166.17 191.33,170.52 194.2,175 C197.07,179.48 200.42,185.03 203.2,188.9 C205.98,192.77 208.58,195.88 210.9,198.2 C213.22,200.52 215.25,201.68 217.1,202.8 C218.95,203.92 219.52,203.7 222,204.9 C224.48,206.1 228.37,208.05 232,210 C235.63,211.95 240.02,215.2 243.8,216.6 C247.58,218 251.07,217.8 254.7,218.4 C258.33,219 262.38,219.47 265.6,220.2 C268.82,220.93 271.27,221.9 274,222.8 C276.73,223.7 279.3,224.55 282,225.6 C284.7,226.65 285.5,226.67 290.2,229.1 C294.9,231.53 303.52,235.83 310.2,240.2 C316.88,244.57 323.33,249.75 330.3,255.3 C337.27,260.85 341.8,264.78 352,273.5 C362.2,282.22 384.92,301.92 391.5,307.6"/><polyline fill="none" stroke="#ff00ff" stroke-width="1.6" stroke-linejoin="miter" points="160.4,97.5 190.4,185.8 213.7,189.3 217,209.3 220.6,213 300.8,225.6 391.5,307.6"/></g>
<g clip-path="url(#cpB)" opacity="0.3"><polyline fill="none" stroke="#ff00ff" stroke-width="1.6" stroke-linejoin="miter" points="160.4,97.5 190.4,185.8 213.7,189.3 217,209.3 220.6,213 300.8,225.6 391.5,307.6"/></g>
<g clip-path="url(#cpC)"><polyline fill="none" stroke="#00ff00" stroke-width="1.5" stroke-linejoin="miter" points="160.6,97.5 182,127.1 274.2,141.5 284.3,154.4 332.3,162.5 335.4,168.1 353.7,283.2 388.9,288.2 390.9,305 391.7,307.9"/></g>
<g clip-path="url(#cpD)" opacity="0.5"><polyline fill="none" stroke="#00ff00" stroke-width="1.5" stroke-linejoin="miter" points="160.6,97.5 182,127.1 274.2,141.5 284.3,154.4 332.3,162.5 335.4,168.1 353.7,283.2 388.9,288.2 390.9,305 391.7,307.9"/></g>
<circle cx="391.7" cy="307.9" r="2.2" fill="#ffee00"/>
<rect x="325.3" y="22.7" width="166.3" height="41" fill="#fff" stroke="#a4a4a4" stroke-width="0.75"/>
<circle cx="333.9" cy="29.9" r="1.45" fill="#ffee00"/>
<path d="M333.9,41.4 L336,45.2 L331.8,45.2 Z" fill="#f81414"/>
<line x1="327.4" y1="56.5" x2="340.5" y2="56.5" stroke="#00ff00" stroke-width="1.5"/>
<line x1="383.9" y1="29.9" x2="397.2" y2="29.9" stroke="#ff00ff" stroke-width="1.5"/>
<line x1="383.9" y1="43.5" x2="397.2" y2="43.5" stroke="#00ffff" stroke-width="1"/>
<text x="342" y="33.2" font-family="Liberation Serif, serif" font-size="8.55" fill="#1a1a1a" stroke="#1a1a1a" stroke-width="0.12">start point</text>
<text x="342" y="46.7" font-family="Liberation Serif, serif" font-size="8.55" fill="#1a1a1a" stroke="#1a1a1a" stroke-width="0.12">goal point</text>
<text x="342" y="59.9" font-family="Liberation Serif, serif" font-size="8.55" fill="#1a1a1a" stroke="#1a1a1a" stroke-width="0.12">A-star path</text>
<text x="398.9" y="33.2" font-family="Liberation Serif, serif" font-size="8.55" fill="#1a1a1a" stroke="#1a1a1a" stroke-width="0.12">A-star plus path</text>
<text x="398.9" y="46.7" font-family="Liberation Serif, serif" font-size="8.55" fill="#1a1a1a" stroke="#1a1a1a" stroke-width="0.12">A-star plus optimized path</text>
</svg></body></html>
